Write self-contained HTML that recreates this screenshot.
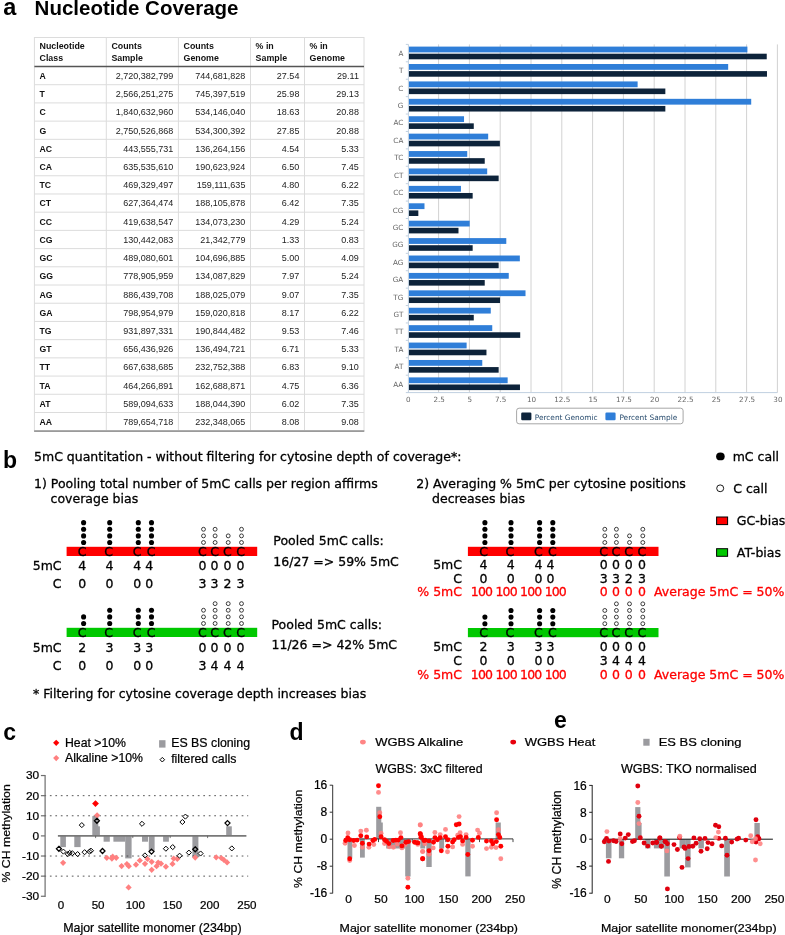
<!DOCTYPE html>
<html lang="en">
<head>
<meta charset="utf-8">
<title>Nucleotide Coverage</title>
<style>
html,body{margin:0;padding:0;background:#fff;}
body{width:785px;height:935px;overflow:hidden;}
svg{display:block;}
.ls{font-family:"Liberation Sans", sans-serif;}
.dv{font-family:"DejaVu Sans", "Liberation Sans", sans-serif;}

</style>
</head>
<body>
<svg width="785" height="935" viewBox="0 0 785 935">
<rect x="0" y="0" width="785" height="935" fill="#ffffff"/>
<g id="panel-a">
<text class="ls" x="3.20" y="15.00" font-size="23.5" font-weight="bold">a</text>
<text class="ls" font-size="19.4" font-weight="bold" transform="translate(34.6,14.9) scale(1.057,1)">Nucleotide Coverage</text>
<line x1="34.40" y1="84.71" x2="364.00" y2="84.71" stroke="#dcdcdc" stroke-width="1"/>
<line x1="34.40" y1="102.92" x2="364.00" y2="102.92" stroke="#dcdcdc" stroke-width="1"/>
<line x1="34.40" y1="121.13" x2="364.00" y2="121.13" stroke="#dcdcdc" stroke-width="1"/>
<line x1="34.40" y1="139.34" x2="364.00" y2="139.34" stroke="#dcdcdc" stroke-width="1"/>
<line x1="34.40" y1="157.55" x2="364.00" y2="157.55" stroke="#dcdcdc" stroke-width="1"/>
<line x1="34.40" y1="175.76" x2="364.00" y2="175.76" stroke="#dcdcdc" stroke-width="1"/>
<line x1="34.40" y1="193.97" x2="364.00" y2="193.97" stroke="#dcdcdc" stroke-width="1"/>
<line x1="34.40" y1="212.18" x2="364.00" y2="212.18" stroke="#dcdcdc" stroke-width="1"/>
<line x1="34.40" y1="230.39" x2="364.00" y2="230.39" stroke="#dcdcdc" stroke-width="1"/>
<line x1="34.40" y1="248.60" x2="364.00" y2="248.60" stroke="#dcdcdc" stroke-width="1"/>
<line x1="34.40" y1="266.81" x2="364.00" y2="266.81" stroke="#dcdcdc" stroke-width="1"/>
<line x1="34.40" y1="285.02" x2="364.00" y2="285.02" stroke="#dcdcdc" stroke-width="1"/>
<line x1="34.40" y1="303.23" x2="364.00" y2="303.23" stroke="#dcdcdc" stroke-width="1"/>
<line x1="34.40" y1="321.44" x2="364.00" y2="321.44" stroke="#dcdcdc" stroke-width="1"/>
<line x1="34.40" y1="339.65" x2="364.00" y2="339.65" stroke="#dcdcdc" stroke-width="1"/>
<line x1="34.40" y1="357.86" x2="364.00" y2="357.86" stroke="#dcdcdc" stroke-width="1"/>
<line x1="34.40" y1="376.07" x2="364.00" y2="376.07" stroke="#dcdcdc" stroke-width="1"/>
<line x1="34.40" y1="394.28" x2="364.00" y2="394.28" stroke="#dcdcdc" stroke-width="1"/>
<line x1="34.40" y1="412.49" x2="364.00" y2="412.49" stroke="#dcdcdc" stroke-width="1"/>
<line x1="106.30" y1="37.50" x2="106.30" y2="430.70" stroke="#dcdcdc" stroke-width="1"/>
<line x1="178.40" y1="37.50" x2="178.40" y2="430.70" stroke="#dcdcdc" stroke-width="1"/>
<line x1="250.50" y1="37.50" x2="250.50" y2="430.70" stroke="#dcdcdc" stroke-width="1"/>
<line x1="304.50" y1="37.50" x2="304.50" y2="430.70" stroke="#dcdcdc" stroke-width="1"/>
<rect x="34.4" y="37.5" width="329.60" height="393.20" fill="none" stroke="#dcdcdc" stroke-width="1"/>
<line x1="34.40" y1="66.50" x2="364.00" y2="66.50" stroke="#555" stroke-width="1.4"/>
<line x1="34.10" y1="431.10" x2="364.30" y2="431.10" stroke="#9a9a9a" stroke-width="1.8"/>
<text class="ls" x="39.50" y="49.30" font-size="8.85" font-weight="bold" fill="#111">Nucleotide</text>
<text class="ls" x="39.50" y="60.50" font-size="8.85" font-weight="bold" fill="#111">Class</text>
<text class="ls" x="111.40" y="49.30" font-size="8.85" font-weight="bold" fill="#111">Counts</text>
<text class="ls" x="111.40" y="60.50" font-size="8.85" font-weight="bold" fill="#111">Sample</text>
<text class="ls" x="183.50" y="49.30" font-size="8.85" font-weight="bold" fill="#111">Counts</text>
<text class="ls" x="183.50" y="60.50" font-size="8.85" font-weight="bold" fill="#111">Genome</text>
<text class="ls" x="255.60" y="49.30" font-size="8.85" font-weight="bold" fill="#111">% in</text>
<text class="ls" x="255.60" y="60.50" font-size="8.85" font-weight="bold" fill="#111">Sample</text>
<text class="ls" x="309.60" y="49.30" font-size="8.85" font-weight="bold" fill="#111">% in</text>
<text class="ls" x="309.60" y="60.50" font-size="8.85" font-weight="bold" fill="#111">Genome</text>
<text class="ls" x="39.50" y="79.00" font-size="8.7" font-weight="bold" fill="#111">A</text>
<text class="ls" x="173.30" y="79.00" font-size="9" fill="#222" text-anchor="end">2,720,382,799</text>
<text class="ls" x="245.40" y="79.00" font-size="9" fill="#222" text-anchor="end">744,681,828</text>
<text class="ls" x="299.40" y="79.00" font-size="9" fill="#222" text-anchor="end">27.54</text>
<text class="ls" x="358.90" y="79.00" font-size="9" fill="#222" text-anchor="end">29.11</text>
<text class="ls" x="39.50" y="97.21" font-size="8.7" font-weight="bold" fill="#111">T</text>
<text class="ls" x="173.30" y="97.21" font-size="9" fill="#222" text-anchor="end">2,566,251,275</text>
<text class="ls" x="245.40" y="97.21" font-size="9" fill="#222" text-anchor="end">745,397,519</text>
<text class="ls" x="299.40" y="97.21" font-size="9" fill="#222" text-anchor="end">25.98</text>
<text class="ls" x="358.90" y="97.21" font-size="9" fill="#222" text-anchor="end">29.13</text>
<text class="ls" x="39.50" y="115.42" font-size="8.7" font-weight="bold" fill="#111">C</text>
<text class="ls" x="173.30" y="115.42" font-size="9" fill="#222" text-anchor="end">1,840,632,960</text>
<text class="ls" x="245.40" y="115.42" font-size="9" fill="#222" text-anchor="end">534,146,040</text>
<text class="ls" x="299.40" y="115.42" font-size="9" fill="#222" text-anchor="end">18.63</text>
<text class="ls" x="358.90" y="115.42" font-size="9" fill="#222" text-anchor="end">20.88</text>
<text class="ls" x="39.50" y="133.63" font-size="8.7" font-weight="bold" fill="#111">G</text>
<text class="ls" x="173.30" y="133.63" font-size="9" fill="#222" text-anchor="end">2,750,526,868</text>
<text class="ls" x="245.40" y="133.63" font-size="9" fill="#222" text-anchor="end">534,300,392</text>
<text class="ls" x="299.40" y="133.63" font-size="9" fill="#222" text-anchor="end">27.85</text>
<text class="ls" x="358.90" y="133.63" font-size="9" fill="#222" text-anchor="end">20.88</text>
<text class="ls" x="39.50" y="151.84" font-size="8.7" font-weight="bold" fill="#111">AC</text>
<text class="ls" x="173.30" y="151.84" font-size="9" fill="#222" text-anchor="end">443,555,731</text>
<text class="ls" x="245.40" y="151.84" font-size="9" fill="#222" text-anchor="end">136,264,156</text>
<text class="ls" x="299.40" y="151.84" font-size="9" fill="#222" text-anchor="end">4.54</text>
<text class="ls" x="358.90" y="151.84" font-size="9" fill="#222" text-anchor="end">5.33</text>
<text class="ls" x="39.50" y="170.05" font-size="8.7" font-weight="bold" fill="#111">CA</text>
<text class="ls" x="173.30" y="170.05" font-size="9" fill="#222" text-anchor="end">635,535,610</text>
<text class="ls" x="245.40" y="170.05" font-size="9" fill="#222" text-anchor="end">190,623,924</text>
<text class="ls" x="299.40" y="170.05" font-size="9" fill="#222" text-anchor="end">6.50</text>
<text class="ls" x="358.90" y="170.05" font-size="9" fill="#222" text-anchor="end">7.45</text>
<text class="ls" x="39.50" y="188.26" font-size="8.7" font-weight="bold" fill="#111">TC</text>
<text class="ls" x="173.30" y="188.26" font-size="9" fill="#222" text-anchor="end">469,329,497</text>
<text class="ls" x="245.40" y="188.26" font-size="9" fill="#222" text-anchor="end">159,111,635</text>
<text class="ls" x="299.40" y="188.26" font-size="9" fill="#222" text-anchor="end">4.80</text>
<text class="ls" x="358.90" y="188.26" font-size="9" fill="#222" text-anchor="end">6.22</text>
<text class="ls" x="39.50" y="206.47" font-size="8.7" font-weight="bold" fill="#111">CT</text>
<text class="ls" x="173.30" y="206.47" font-size="9" fill="#222" text-anchor="end">627,364,474</text>
<text class="ls" x="245.40" y="206.47" font-size="9" fill="#222" text-anchor="end">188,105,878</text>
<text class="ls" x="299.40" y="206.47" font-size="9" fill="#222" text-anchor="end">6.42</text>
<text class="ls" x="358.90" y="206.47" font-size="9" fill="#222" text-anchor="end">7.35</text>
<text class="ls" x="39.50" y="224.68" font-size="8.7" font-weight="bold" fill="#111">CC</text>
<text class="ls" x="173.30" y="224.68" font-size="9" fill="#222" text-anchor="end">419,638,547</text>
<text class="ls" x="245.40" y="224.68" font-size="9" fill="#222" text-anchor="end">134,073,230</text>
<text class="ls" x="299.40" y="224.68" font-size="9" fill="#222" text-anchor="end">4.29</text>
<text class="ls" x="358.90" y="224.68" font-size="9" fill="#222" text-anchor="end">5.24</text>
<text class="ls" x="39.50" y="242.89" font-size="8.7" font-weight="bold" fill="#111">CG</text>
<text class="ls" x="173.30" y="242.89" font-size="9" fill="#222" text-anchor="end">130,442,083</text>
<text class="ls" x="245.40" y="242.89" font-size="9" fill="#222" text-anchor="end">21,342,779</text>
<text class="ls" x="299.40" y="242.89" font-size="9" fill="#222" text-anchor="end">1.33</text>
<text class="ls" x="358.90" y="242.89" font-size="9" fill="#222" text-anchor="end">0.83</text>
<text class="ls" x="39.50" y="261.10" font-size="8.7" font-weight="bold" fill="#111">GC</text>
<text class="ls" x="173.30" y="261.10" font-size="9" fill="#222" text-anchor="end">489,080,601</text>
<text class="ls" x="245.40" y="261.10" font-size="9" fill="#222" text-anchor="end">104,696,885</text>
<text class="ls" x="299.40" y="261.10" font-size="9" fill="#222" text-anchor="end">5.00</text>
<text class="ls" x="358.90" y="261.10" font-size="9" fill="#222" text-anchor="end">4.09</text>
<text class="ls" x="39.50" y="279.31" font-size="8.7" font-weight="bold" fill="#111">GG</text>
<text class="ls" x="173.30" y="279.31" font-size="9" fill="#222" text-anchor="end">778,905,959</text>
<text class="ls" x="245.40" y="279.31" font-size="9" fill="#222" text-anchor="end">134,087,829</text>
<text class="ls" x="299.40" y="279.31" font-size="9" fill="#222" text-anchor="end">7.97</text>
<text class="ls" x="358.90" y="279.31" font-size="9" fill="#222" text-anchor="end">5.24</text>
<text class="ls" x="39.50" y="297.52" font-size="8.7" font-weight="bold" fill="#111">AG</text>
<text class="ls" x="173.30" y="297.52" font-size="9" fill="#222" text-anchor="end">886,439,708</text>
<text class="ls" x="245.40" y="297.52" font-size="9" fill="#222" text-anchor="end">188,025,079</text>
<text class="ls" x="299.40" y="297.52" font-size="9" fill="#222" text-anchor="end">9.07</text>
<text class="ls" x="358.90" y="297.52" font-size="9" fill="#222" text-anchor="end">7.35</text>
<text class="ls" x="39.50" y="315.73" font-size="8.7" font-weight="bold" fill="#111">GA</text>
<text class="ls" x="173.30" y="315.73" font-size="9" fill="#222" text-anchor="end">798,954,979</text>
<text class="ls" x="245.40" y="315.73" font-size="9" fill="#222" text-anchor="end">159,020,818</text>
<text class="ls" x="299.40" y="315.73" font-size="9" fill="#222" text-anchor="end">8.17</text>
<text class="ls" x="358.90" y="315.73" font-size="9" fill="#222" text-anchor="end">6.22</text>
<text class="ls" x="39.50" y="333.94" font-size="8.7" font-weight="bold" fill="#111">TG</text>
<text class="ls" x="173.30" y="333.94" font-size="9" fill="#222" text-anchor="end">931,897,331</text>
<text class="ls" x="245.40" y="333.94" font-size="9" fill="#222" text-anchor="end">190,844,482</text>
<text class="ls" x="299.40" y="333.94" font-size="9" fill="#222" text-anchor="end">9.53</text>
<text class="ls" x="358.90" y="333.94" font-size="9" fill="#222" text-anchor="end">7.46</text>
<text class="ls" x="39.50" y="352.15" font-size="8.7" font-weight="bold" fill="#111">GT</text>
<text class="ls" x="173.30" y="352.15" font-size="9" fill="#222" text-anchor="end">656,436,926</text>
<text class="ls" x="245.40" y="352.15" font-size="9" fill="#222" text-anchor="end">136,494,721</text>
<text class="ls" x="299.40" y="352.15" font-size="9" fill="#222" text-anchor="end">6.71</text>
<text class="ls" x="358.90" y="352.15" font-size="9" fill="#222" text-anchor="end">5.33</text>
<text class="ls" x="39.50" y="370.36" font-size="8.7" font-weight="bold" fill="#111">TT</text>
<text class="ls" x="173.30" y="370.36" font-size="9" fill="#222" text-anchor="end">667,638,685</text>
<text class="ls" x="245.40" y="370.36" font-size="9" fill="#222" text-anchor="end">232,752,388</text>
<text class="ls" x="299.40" y="370.36" font-size="9" fill="#222" text-anchor="end">6.83</text>
<text class="ls" x="358.90" y="370.36" font-size="9" fill="#222" text-anchor="end">9.10</text>
<text class="ls" x="39.50" y="388.57" font-size="8.7" font-weight="bold" fill="#111">TA</text>
<text class="ls" x="173.30" y="388.57" font-size="9" fill="#222" text-anchor="end">464,266,891</text>
<text class="ls" x="245.40" y="388.57" font-size="9" fill="#222" text-anchor="end">162,688,871</text>
<text class="ls" x="299.40" y="388.57" font-size="9" fill="#222" text-anchor="end">4.75</text>
<text class="ls" x="358.90" y="388.57" font-size="9" fill="#222" text-anchor="end">6.36</text>
<text class="ls" x="39.50" y="406.78" font-size="8.7" font-weight="bold" fill="#111">AT</text>
<text class="ls" x="173.30" y="406.78" font-size="9" fill="#222" text-anchor="end">589,094,633</text>
<text class="ls" x="245.40" y="406.78" font-size="9" fill="#222" text-anchor="end">188,044,390</text>
<text class="ls" x="299.40" y="406.78" font-size="9" fill="#222" text-anchor="end">6.02</text>
<text class="ls" x="358.90" y="406.78" font-size="9" fill="#222" text-anchor="end">7.35</text>
<text class="ls" x="39.50" y="424.99" font-size="8.7" font-weight="bold" fill="#111">AA</text>
<text class="ls" x="173.30" y="424.99" font-size="9" fill="#222" text-anchor="end">789,654,718</text>
<text class="ls" x="245.40" y="424.99" font-size="9" fill="#222" text-anchor="end">232,348,065</text>
<text class="ls" x="299.40" y="424.99" font-size="9" fill="#222" text-anchor="end">8.08</text>
<text class="ls" x="358.90" y="424.99" font-size="9" fill="#222" text-anchor="end">9.08</text>
<line x1="438.60" y1="44.40" x2="438.60" y2="392.60" stroke="#d2d2d2" stroke-width="1"/>
<line x1="469.40" y1="44.40" x2="469.40" y2="392.60" stroke="#d2d2d2" stroke-width="1"/>
<line x1="500.20" y1="44.40" x2="500.20" y2="392.60" stroke="#d2d2d2" stroke-width="1"/>
<line x1="531.00" y1="44.40" x2="531.00" y2="392.60" stroke="#d2d2d2" stroke-width="1"/>
<line x1="561.80" y1="44.40" x2="561.80" y2="392.60" stroke="#d2d2d2" stroke-width="1"/>
<line x1="592.60" y1="44.40" x2="592.60" y2="392.60" stroke="#d2d2d2" stroke-width="1"/>
<line x1="623.40" y1="44.40" x2="623.40" y2="392.60" stroke="#d2d2d2" stroke-width="1"/>
<line x1="654.20" y1="44.40" x2="654.20" y2="392.60" stroke="#d2d2d2" stroke-width="1"/>
<line x1="685.00" y1="44.40" x2="685.00" y2="392.60" stroke="#d2d2d2" stroke-width="1"/>
<line x1="715.80" y1="44.40" x2="715.80" y2="392.60" stroke="#d2d2d2" stroke-width="1"/>
<line x1="746.60" y1="44.40" x2="746.60" y2="392.60" stroke="#d2d2d2" stroke-width="1"/>
<line x1="777.40" y1="44.40" x2="777.40" y2="392.60" stroke="#d2d2d2" stroke-width="1"/>
<rect x="408.80" y="46.60" width="338.59" height="5.80" fill="#2f7ed8"/>
<rect x="408.80" y="53.70" width="357.94" height="5.60" fill="#0d233a"/>
<text class="dv" x="403.30" y="55.80" font-size="7.2" fill="#666" text-anchor="end">A</text>
<rect x="408.80" y="64.01" width="319.37" height="5.80" fill="#2f7ed8"/>
<rect x="408.80" y="71.11" width="358.18" height="5.60" fill="#0d233a"/>
<text class="dv" x="403.30" y="73.22" font-size="7.2" fill="#666" text-anchor="end">T</text>
<rect x="408.80" y="81.42" width="228.82" height="5.80" fill="#2f7ed8"/>
<rect x="408.80" y="88.52" width="256.54" height="5.60" fill="#0d233a"/>
<text class="dv" x="403.30" y="90.62" font-size="7.2" fill="#666" text-anchor="end">C</text>
<rect x="408.80" y="98.83" width="342.41" height="5.80" fill="#2f7ed8"/>
<rect x="408.80" y="105.93" width="256.54" height="5.60" fill="#0d233a"/>
<text class="dv" x="403.30" y="108.03" font-size="7.2" fill="#666" text-anchor="end">G</text>
<rect x="408.80" y="116.24" width="55.23" height="5.80" fill="#2f7ed8"/>
<rect x="408.80" y="123.34" width="64.97" height="5.60" fill="#0d233a"/>
<text class="dv" x="403.30" y="125.44" font-size="7.2" fill="#666" text-anchor="end">AC</text>
<rect x="408.80" y="133.65" width="79.38" height="5.80" fill="#2f7ed8"/>
<rect x="408.80" y="140.75" width="91.08" height="5.60" fill="#0d233a"/>
<text class="dv" x="403.30" y="142.85" font-size="7.2" fill="#666" text-anchor="end">CA</text>
<rect x="408.80" y="151.06" width="58.44" height="5.80" fill="#2f7ed8"/>
<rect x="408.80" y="158.16" width="75.93" height="5.60" fill="#0d233a"/>
<text class="dv" x="403.30" y="160.27" font-size="7.2" fill="#666" text-anchor="end">TC</text>
<rect x="408.80" y="168.47" width="78.39" height="5.80" fill="#2f7ed8"/>
<rect x="408.80" y="175.57" width="89.85" height="5.60" fill="#0d233a"/>
<text class="dv" x="403.30" y="177.68" font-size="7.2" fill="#666" text-anchor="end">CT</text>
<rect x="408.80" y="185.88" width="52.15" height="5.80" fill="#2f7ed8"/>
<rect x="408.80" y="192.98" width="63.86" height="5.60" fill="#0d233a"/>
<text class="dv" x="403.30" y="195.09" font-size="7.2" fill="#666" text-anchor="end">CC</text>
<rect x="408.80" y="203.29" width="15.69" height="5.80" fill="#2f7ed8"/>
<rect x="408.80" y="210.39" width="9.53" height="5.60" fill="#0d233a"/>
<text class="dv" x="403.30" y="212.50" font-size="7.2" fill="#666" text-anchor="end">CG</text>
<rect x="408.80" y="220.70" width="60.90" height="5.80" fill="#2f7ed8"/>
<rect x="408.80" y="227.80" width="49.69" height="5.60" fill="#0d233a"/>
<text class="dv" x="403.30" y="229.91" font-size="7.2" fill="#666" text-anchor="end">GC</text>
<rect x="408.80" y="238.11" width="97.49" height="5.80" fill="#2f7ed8"/>
<rect x="408.80" y="245.21" width="63.86" height="5.60" fill="#0d233a"/>
<text class="dv" x="403.30" y="247.31" font-size="7.2" fill="#666" text-anchor="end">GG</text>
<rect x="408.80" y="255.52" width="111.04" height="5.80" fill="#2f7ed8"/>
<rect x="408.80" y="262.62" width="89.85" height="5.60" fill="#0d233a"/>
<text class="dv" x="403.30" y="264.73" font-size="7.2" fill="#666" text-anchor="end">AG</text>
<rect x="408.80" y="272.93" width="99.95" height="5.80" fill="#2f7ed8"/>
<rect x="408.80" y="280.03" width="75.93" height="5.60" fill="#0d233a"/>
<text class="dv" x="403.30" y="282.13" font-size="7.2" fill="#666" text-anchor="end">GA</text>
<rect x="408.80" y="290.34" width="116.71" height="5.80" fill="#2f7ed8"/>
<rect x="408.80" y="297.44" width="91.21" height="5.60" fill="#0d233a"/>
<text class="dv" x="403.30" y="299.54" font-size="7.2" fill="#666" text-anchor="end">TG</text>
<rect x="408.80" y="307.75" width="81.97" height="5.80" fill="#2f7ed8"/>
<rect x="408.80" y="314.85" width="64.97" height="5.60" fill="#0d233a"/>
<text class="dv" x="403.30" y="316.95" font-size="7.2" fill="#666" text-anchor="end">GT</text>
<rect x="408.80" y="325.16" width="83.45" height="5.80" fill="#2f7ed8"/>
<rect x="408.80" y="332.26" width="111.41" height="5.60" fill="#0d233a"/>
<text class="dv" x="403.30" y="334.36" font-size="7.2" fill="#666" text-anchor="end">TT</text>
<rect x="408.80" y="342.57" width="57.82" height="5.80" fill="#2f7ed8"/>
<rect x="408.80" y="349.67" width="77.66" height="5.60" fill="#0d233a"/>
<text class="dv" x="403.30" y="351.77" font-size="7.2" fill="#666" text-anchor="end">TA</text>
<rect x="408.80" y="359.98" width="73.47" height="5.80" fill="#2f7ed8"/>
<rect x="408.80" y="367.08" width="89.85" height="5.60" fill="#0d233a"/>
<text class="dv" x="403.30" y="369.18" font-size="7.2" fill="#666" text-anchor="end">AT</text>
<rect x="408.80" y="377.39" width="98.85" height="5.80" fill="#2f7ed8"/>
<rect x="408.80" y="384.49" width="111.17" height="5.60" fill="#0d233a"/>
<text class="dv" x="403.30" y="386.59" font-size="7.2" fill="#666" text-anchor="end">AA</text>
<line x1="408.40" y1="44.40" x2="408.40" y2="392.60" stroke="#c0d0e0" stroke-width="1"/>
<line x1="405.80" y1="44.40" x2="408.40" y2="44.40" stroke="#c0d0e0" stroke-width="1"/>
<line x1="405.80" y1="61.81" x2="408.40" y2="61.81" stroke="#c0d0e0" stroke-width="1"/>
<line x1="405.80" y1="79.22" x2="408.40" y2="79.22" stroke="#c0d0e0" stroke-width="1"/>
<line x1="405.80" y1="96.63" x2="408.40" y2="96.63" stroke="#c0d0e0" stroke-width="1"/>
<line x1="405.80" y1="114.04" x2="408.40" y2="114.04" stroke="#c0d0e0" stroke-width="1"/>
<line x1="405.80" y1="131.45" x2="408.40" y2="131.45" stroke="#c0d0e0" stroke-width="1"/>
<line x1="405.80" y1="148.86" x2="408.40" y2="148.86" stroke="#c0d0e0" stroke-width="1"/>
<line x1="405.80" y1="166.27" x2="408.40" y2="166.27" stroke="#c0d0e0" stroke-width="1"/>
<line x1="405.80" y1="183.68" x2="408.40" y2="183.68" stroke="#c0d0e0" stroke-width="1"/>
<line x1="405.80" y1="201.09" x2="408.40" y2="201.09" stroke="#c0d0e0" stroke-width="1"/>
<line x1="405.80" y1="218.50" x2="408.40" y2="218.50" stroke="#c0d0e0" stroke-width="1"/>
<line x1="405.80" y1="235.91" x2="408.40" y2="235.91" stroke="#c0d0e0" stroke-width="1"/>
<line x1="405.80" y1="253.32" x2="408.40" y2="253.32" stroke="#c0d0e0" stroke-width="1"/>
<line x1="405.80" y1="270.73" x2="408.40" y2="270.73" stroke="#c0d0e0" stroke-width="1"/>
<line x1="405.80" y1="288.14" x2="408.40" y2="288.14" stroke="#c0d0e0" stroke-width="1"/>
<line x1="405.80" y1="305.55" x2="408.40" y2="305.55" stroke="#c0d0e0" stroke-width="1"/>
<line x1="405.80" y1="322.96" x2="408.40" y2="322.96" stroke="#c0d0e0" stroke-width="1"/>
<line x1="405.80" y1="340.37" x2="408.40" y2="340.37" stroke="#c0d0e0" stroke-width="1"/>
<line x1="405.80" y1="357.78" x2="408.40" y2="357.78" stroke="#c0d0e0" stroke-width="1"/>
<line x1="405.80" y1="375.19" x2="408.40" y2="375.19" stroke="#c0d0e0" stroke-width="1"/>
<line x1="405.80" y1="392.60" x2="408.40" y2="392.60" stroke="#c0d0e0" stroke-width="1"/>
<line x1="407.80" y1="392.60" x2="777.40" y2="392.60" stroke="#c0d0e0" stroke-width="1"/>
<text class="dv" x="408.30" y="402.00" font-size="7.2" fill="#666" text-anchor="middle">0</text>
<text class="dv" x="439.10" y="402.00" font-size="7.2" fill="#666" text-anchor="middle">2.5</text>
<text class="dv" x="469.90" y="402.00" font-size="7.2" fill="#666" text-anchor="middle">5</text>
<text class="dv" x="500.70" y="402.00" font-size="7.2" fill="#666" text-anchor="middle">7.5</text>
<text class="dv" x="531.50" y="402.00" font-size="7.2" fill="#666" text-anchor="middle">10</text>
<text class="dv" x="562.30" y="402.00" font-size="7.2" fill="#666" text-anchor="middle">12.5</text>
<text class="dv" x="593.10" y="402.00" font-size="7.2" fill="#666" text-anchor="middle">15</text>
<text class="dv" x="623.90" y="402.00" font-size="7.2" fill="#666" text-anchor="middle">17.5</text>
<text class="dv" x="654.70" y="402.00" font-size="7.2" fill="#666" text-anchor="middle">20</text>
<text class="dv" x="685.50" y="402.00" font-size="7.2" fill="#666" text-anchor="middle">22.5</text>
<text class="dv" x="716.30" y="402.00" font-size="7.2" fill="#666" text-anchor="middle">25</text>
<text class="dv" x="747.10" y="402.00" font-size="7.2" fill="#666" text-anchor="middle">27.5</text>
<text class="dv" x="777.90" y="402.00" font-size="7.2" fill="#666" text-anchor="middle">30</text>
<rect x="516.6" y="408.2" width="166.5" height="15.6" rx="2.5" fill="#fff" stroke="#909090" stroke-width="0.8"/>
<rect x="521.2" y="412.5" width="10.2" height="7.7" rx="1.2" fill="#0d233a"/>
<text class="dv" x="534.70" y="419.50" font-size="7.4" fill="#274b6d">Percent Genomic</text>
<rect x="605.4" y="412.5" width="10.2" height="7.7" rx="1.2" fill="#2f7ed8"/>
<text class="dv" x="619.40" y="419.50" font-size="7.4" fill="#274b6d">Percent Sample</text>
</g>
<g id="panel-b">
<text class="ls" x="3.10" y="468.30" font-size="23" font-weight="bold">b</text>
<text class="dv" x="34.00" y="460.60" font-size="12.5" stroke="#000" stroke-width="0.3">5mC quantitation - without filtering for cytosine depth of coverage*:</text>
<text class="dv" x="34.00" y="488.40" font-size="12.5" stroke="#000" stroke-width="0.3">1) Pooling total number of 5mC calls per region affirms</text>
<text class="dv" x="50.60" y="503.20" font-size="12.5" stroke="#000" stroke-width="0.3">coverage bias</text>
<text class="dv" x="416.30" y="488.40" font-size="12.5" stroke="#000" stroke-width="0.3">2) Averaging % 5mC per cytosine positions</text>
<text class="dv" x="432.00" y="503.20" font-size="12.5" stroke="#000" stroke-width="0.3">decreases bias</text>
<text class="dv" x="33.00" y="697.90" font-size="12.5" stroke="#000" stroke-width="0.3">* Filtering for cytosine coverage depth increases bias</text>
<rect x="66.60" y="546.80" width="190.60" height="9.20" fill="#ff0000"/>
<circle cx="83.60" cy="542.50" r="2.55" fill="#000"/>
<circle cx="83.60" cy="535.88" r="2.55" fill="#000"/>
<circle cx="83.60" cy="529.26" r="2.55" fill="#000"/>
<circle cx="83.60" cy="522.64" r="2.55" fill="#000"/>
<circle cx="109.70" cy="542.50" r="2.55" fill="#000"/>
<circle cx="109.70" cy="535.88" r="2.55" fill="#000"/>
<circle cx="109.70" cy="529.26" r="2.55" fill="#000"/>
<circle cx="109.70" cy="522.64" r="2.55" fill="#000"/>
<circle cx="138.30" cy="542.50" r="2.55" fill="#000"/>
<circle cx="138.30" cy="535.88" r="2.55" fill="#000"/>
<circle cx="138.30" cy="529.26" r="2.55" fill="#000"/>
<circle cx="138.30" cy="522.64" r="2.55" fill="#000"/>
<circle cx="151.50" cy="542.50" r="2.55" fill="#000"/>
<circle cx="151.50" cy="535.88" r="2.55" fill="#000"/>
<circle cx="151.50" cy="529.26" r="2.55" fill="#000"/>
<circle cx="151.50" cy="522.64" r="2.55" fill="#000"/>
<circle cx="203.50" cy="542.50" r="1.95" fill="#fff" stroke="#000" stroke-width="0.75"/>
<circle cx="203.50" cy="535.88" r="1.95" fill="#fff" stroke="#000" stroke-width="0.75"/>
<circle cx="203.50" cy="529.26" r="1.95" fill="#fff" stroke="#000" stroke-width="0.75"/>
<circle cx="215.10" cy="542.50" r="1.95" fill="#fff" stroke="#000" stroke-width="0.75"/>
<circle cx="215.10" cy="535.88" r="1.95" fill="#fff" stroke="#000" stroke-width="0.75"/>
<circle cx="215.10" cy="529.26" r="1.95" fill="#fff" stroke="#000" stroke-width="0.75"/>
<circle cx="228.20" cy="542.50" r="1.95" fill="#fff" stroke="#000" stroke-width="0.75"/>
<circle cx="228.20" cy="535.88" r="1.95" fill="#fff" stroke="#000" stroke-width="0.75"/>
<circle cx="241.50" cy="542.50" r="1.95" fill="#fff" stroke="#000" stroke-width="0.75"/>
<circle cx="241.50" cy="535.88" r="1.95" fill="#fff" stroke="#000" stroke-width="0.75"/>
<circle cx="241.50" cy="529.26" r="1.95" fill="#fff" stroke="#000" stroke-width="0.75"/>
<text class="dv" x="82.20" y="555.90" font-size="12.5" text-anchor="middle" stroke="#000" stroke-width="0.3">C</text>
<text class="dv" x="108.60" y="555.90" font-size="12.5" text-anchor="middle" stroke="#000" stroke-width="0.3">C</text>
<text class="dv" x="137.00" y="555.90" font-size="12.5" text-anchor="middle" stroke="#000" stroke-width="0.3">C</text>
<text class="dv" x="151.00" y="555.90" font-size="12.5" text-anchor="middle" stroke="#000" stroke-width="0.3">C</text>
<text class="dv" x="202.40" y="555.90" font-size="12.5" text-anchor="middle" stroke="#000" stroke-width="0.3">C</text>
<text class="dv" x="214.60" y="555.90" font-size="12.5" text-anchor="middle" stroke="#000" stroke-width="0.3">C</text>
<text class="dv" x="227.40" y="555.90" font-size="12.5" text-anchor="middle" stroke="#000" stroke-width="0.3">C</text>
<text class="dv" x="240.60" y="555.90" font-size="12.5" text-anchor="middle" stroke="#000" stroke-width="0.3">C</text>
<text class="dv" x="61.60" y="569.70" font-size="12.5" text-anchor="end" stroke="#000" stroke-width="0.3">5mC</text>
<text class="dv" x="82.20" y="569.70" font-size="12.5" text-anchor="middle" stroke="#000" stroke-width="0.3">4</text>
<text class="dv" x="109.40" y="569.70" font-size="12.5" text-anchor="middle" stroke="#000" stroke-width="0.3">4</text>
<text class="dv" x="137.30" y="569.70" font-size="12.5" text-anchor="middle" stroke="#000" stroke-width="0.3">4</text>
<text class="dv" x="149.30" y="569.70" font-size="12.5" text-anchor="middle" stroke="#000" stroke-width="0.3">4</text>
<text class="dv" x="202.40" y="569.70" font-size="12.5" text-anchor="middle" stroke="#000" stroke-width="0.3">0</text>
<text class="dv" x="214.60" y="569.70" font-size="12.5" text-anchor="middle" stroke="#000" stroke-width="0.3">0</text>
<text class="dv" x="227.40" y="569.70" font-size="12.5" text-anchor="middle" stroke="#000" stroke-width="0.3">0</text>
<text class="dv" x="240.60" y="569.70" font-size="12.5" text-anchor="middle" stroke="#000" stroke-width="0.3">0</text>
<text class="dv" x="61.60" y="588.30" font-size="12.5" text-anchor="end" stroke="#000" stroke-width="0.3">C</text>
<text class="dv" x="82.20" y="588.30" font-size="12.5" text-anchor="middle" stroke="#000" stroke-width="0.3">0</text>
<text class="dv" x="109.40" y="588.30" font-size="12.5" text-anchor="middle" stroke="#000" stroke-width="0.3">0</text>
<text class="dv" x="137.30" y="588.30" font-size="12.5" text-anchor="middle" stroke="#000" stroke-width="0.3">0</text>
<text class="dv" x="149.30" y="588.30" font-size="12.5" text-anchor="middle" stroke="#000" stroke-width="0.3">0</text>
<text class="dv" x="202.40" y="588.30" font-size="12.5" text-anchor="middle" stroke="#000" stroke-width="0.3">3</text>
<text class="dv" x="214.60" y="588.30" font-size="12.5" text-anchor="middle" stroke="#000" stroke-width="0.3">3</text>
<text class="dv" x="227.40" y="588.30" font-size="12.5" text-anchor="middle" stroke="#000" stroke-width="0.3">2</text>
<text class="dv" x="240.60" y="588.30" font-size="12.5" text-anchor="middle" stroke="#000" stroke-width="0.3">3</text>
<rect x="66.60" y="627.80" width="190.60" height="9.20" fill="#00c800"/>
<circle cx="83.60" cy="623.50" r="2.55" fill="#000"/>
<circle cx="83.60" cy="616.88" r="2.55" fill="#000"/>
<circle cx="109.70" cy="623.50" r="2.55" fill="#000"/>
<circle cx="109.70" cy="616.88" r="2.55" fill="#000"/>
<circle cx="109.70" cy="610.26" r="2.55" fill="#000"/>
<circle cx="138.30" cy="623.50" r="2.55" fill="#000"/>
<circle cx="138.30" cy="616.88" r="2.55" fill="#000"/>
<circle cx="138.30" cy="610.26" r="2.55" fill="#000"/>
<circle cx="151.50" cy="623.50" r="2.55" fill="#000"/>
<circle cx="151.50" cy="616.88" r="2.55" fill="#000"/>
<circle cx="151.50" cy="610.26" r="2.55" fill="#000"/>
<circle cx="203.50" cy="623.50" r="1.95" fill="#fff" stroke="#000" stroke-width="0.75"/>
<circle cx="203.50" cy="616.88" r="1.95" fill="#fff" stroke="#000" stroke-width="0.75"/>
<circle cx="203.50" cy="610.26" r="1.95" fill="#fff" stroke="#000" stroke-width="0.75"/>
<circle cx="215.10" cy="623.50" r="1.95" fill="#fff" stroke="#000" stroke-width="0.75"/>
<circle cx="215.10" cy="616.88" r="1.95" fill="#fff" stroke="#000" stroke-width="0.75"/>
<circle cx="215.10" cy="610.26" r="1.95" fill="#fff" stroke="#000" stroke-width="0.75"/>
<circle cx="215.10" cy="603.64" r="1.95" fill="#fff" stroke="#000" stroke-width="0.75"/>
<circle cx="228.20" cy="623.50" r="1.95" fill="#fff" stroke="#000" stroke-width="0.75"/>
<circle cx="228.20" cy="616.88" r="1.95" fill="#fff" stroke="#000" stroke-width="0.75"/>
<circle cx="228.20" cy="610.26" r="1.95" fill="#fff" stroke="#000" stroke-width="0.75"/>
<circle cx="228.20" cy="603.64" r="1.95" fill="#fff" stroke="#000" stroke-width="0.75"/>
<circle cx="241.50" cy="623.50" r="1.95" fill="#fff" stroke="#000" stroke-width="0.75"/>
<circle cx="241.50" cy="616.88" r="1.95" fill="#fff" stroke="#000" stroke-width="0.75"/>
<circle cx="241.50" cy="610.26" r="1.95" fill="#fff" stroke="#000" stroke-width="0.75"/>
<circle cx="241.50" cy="603.64" r="1.95" fill="#fff" stroke="#000" stroke-width="0.75"/>
<text class="dv" x="82.20" y="636.90" font-size="12.5" text-anchor="middle" stroke="#000" stroke-width="0.3">C</text>
<text class="dv" x="108.60" y="636.90" font-size="12.5" text-anchor="middle" stroke="#000" stroke-width="0.3">C</text>
<text class="dv" x="137.00" y="636.90" font-size="12.5" text-anchor="middle" stroke="#000" stroke-width="0.3">C</text>
<text class="dv" x="151.00" y="636.90" font-size="12.5" text-anchor="middle" stroke="#000" stroke-width="0.3">C</text>
<text class="dv" x="202.40" y="636.90" font-size="12.5" text-anchor="middle" stroke="#000" stroke-width="0.3">C</text>
<text class="dv" x="214.60" y="636.90" font-size="12.5" text-anchor="middle" stroke="#000" stroke-width="0.3">C</text>
<text class="dv" x="227.40" y="636.90" font-size="12.5" text-anchor="middle" stroke="#000" stroke-width="0.3">C</text>
<text class="dv" x="240.60" y="636.90" font-size="12.5" text-anchor="middle" stroke="#000" stroke-width="0.3">C</text>
<text class="dv" x="61.60" y="652.30" font-size="12.5" text-anchor="end" stroke="#000" stroke-width="0.3">5mC</text>
<text class="dv" x="82.20" y="652.30" font-size="12.5" text-anchor="middle" stroke="#000" stroke-width="0.3">2</text>
<text class="dv" x="109.40" y="652.30" font-size="12.5" text-anchor="middle" stroke="#000" stroke-width="0.3">3</text>
<text class="dv" x="137.30" y="652.30" font-size="12.5" text-anchor="middle" stroke="#000" stroke-width="0.3">3</text>
<text class="dv" x="149.30" y="652.30" font-size="12.5" text-anchor="middle" stroke="#000" stroke-width="0.3">3</text>
<text class="dv" x="202.40" y="652.30" font-size="12.5" text-anchor="middle" stroke="#000" stroke-width="0.3">0</text>
<text class="dv" x="214.60" y="652.30" font-size="12.5" text-anchor="middle" stroke="#000" stroke-width="0.3">0</text>
<text class="dv" x="227.40" y="652.30" font-size="12.5" text-anchor="middle" stroke="#000" stroke-width="0.3">0</text>
<text class="dv" x="240.60" y="652.30" font-size="12.5" text-anchor="middle" stroke="#000" stroke-width="0.3">0</text>
<text class="dv" x="61.60" y="670.40" font-size="12.5" text-anchor="end" stroke="#000" stroke-width="0.3">C</text>
<text class="dv" x="82.20" y="670.40" font-size="12.5" text-anchor="middle" stroke="#000" stroke-width="0.3">0</text>
<text class="dv" x="109.40" y="670.40" font-size="12.5" text-anchor="middle" stroke="#000" stroke-width="0.3">0</text>
<text class="dv" x="137.30" y="670.40" font-size="12.5" text-anchor="middle" stroke="#000" stroke-width="0.3">0</text>
<text class="dv" x="149.30" y="670.40" font-size="12.5" text-anchor="middle" stroke="#000" stroke-width="0.3">0</text>
<text class="dv" x="202.40" y="670.40" font-size="12.5" text-anchor="middle" stroke="#000" stroke-width="0.3">3</text>
<text class="dv" x="214.60" y="670.40" font-size="12.5" text-anchor="middle" stroke="#000" stroke-width="0.3">4</text>
<text class="dv" x="227.40" y="670.40" font-size="12.5" text-anchor="middle" stroke="#000" stroke-width="0.3">4</text>
<text class="dv" x="240.60" y="670.40" font-size="12.5" text-anchor="middle" stroke="#000" stroke-width="0.3">4</text>
<text class="dv" x="273.30" y="545.00" font-size="12.5" stroke="#000" stroke-width="0.3">Pooled 5mC calls:</text>
<text class="dv" x="273.30" y="565.60" font-size="12.5" stroke="#000" stroke-width="0.3">16/27 =&gt; 59% 5mC</text>
<text class="dv" x="271.50" y="628.50" font-size="12.5" stroke="#000" stroke-width="0.3">Pooled 5mC calls:</text>
<text class="dv" x="271.50" y="648.90" font-size="12.5" stroke="#000" stroke-width="0.3">11/26 =&gt; 42% 5mC</text>
<rect x="467.90" y="546.80" width="190.60" height="9.20" fill="#ff0000"/>
<circle cx="484.90" cy="542.50" r="2.55" fill="#000"/>
<circle cx="484.90" cy="535.88" r="2.55" fill="#000"/>
<circle cx="484.90" cy="529.26" r="2.55" fill="#000"/>
<circle cx="484.90" cy="522.64" r="2.55" fill="#000"/>
<circle cx="511.00" cy="542.50" r="2.55" fill="#000"/>
<circle cx="511.00" cy="535.88" r="2.55" fill="#000"/>
<circle cx="511.00" cy="529.26" r="2.55" fill="#000"/>
<circle cx="511.00" cy="522.64" r="2.55" fill="#000"/>
<circle cx="539.60" cy="542.50" r="2.55" fill="#000"/>
<circle cx="539.60" cy="535.88" r="2.55" fill="#000"/>
<circle cx="539.60" cy="529.26" r="2.55" fill="#000"/>
<circle cx="539.60" cy="522.64" r="2.55" fill="#000"/>
<circle cx="552.80" cy="542.50" r="2.55" fill="#000"/>
<circle cx="552.80" cy="535.88" r="2.55" fill="#000"/>
<circle cx="552.80" cy="529.26" r="2.55" fill="#000"/>
<circle cx="552.80" cy="522.64" r="2.55" fill="#000"/>
<circle cx="604.80" cy="542.50" r="1.95" fill="#fff" stroke="#000" stroke-width="0.75"/>
<circle cx="604.80" cy="535.88" r="1.95" fill="#fff" stroke="#000" stroke-width="0.75"/>
<circle cx="604.80" cy="529.26" r="1.95" fill="#fff" stroke="#000" stroke-width="0.75"/>
<circle cx="616.40" cy="542.50" r="1.95" fill="#fff" stroke="#000" stroke-width="0.75"/>
<circle cx="616.40" cy="535.88" r="1.95" fill="#fff" stroke="#000" stroke-width="0.75"/>
<circle cx="616.40" cy="529.26" r="1.95" fill="#fff" stroke="#000" stroke-width="0.75"/>
<circle cx="629.50" cy="542.50" r="1.95" fill="#fff" stroke="#000" stroke-width="0.75"/>
<circle cx="629.50" cy="535.88" r="1.95" fill="#fff" stroke="#000" stroke-width="0.75"/>
<circle cx="642.80" cy="542.50" r="1.95" fill="#fff" stroke="#000" stroke-width="0.75"/>
<circle cx="642.80" cy="535.88" r="1.95" fill="#fff" stroke="#000" stroke-width="0.75"/>
<circle cx="642.80" cy="529.26" r="1.95" fill="#fff" stroke="#000" stroke-width="0.75"/>
<text class="dv" x="483.50" y="555.90" font-size="12.5" text-anchor="middle" stroke="#000" stroke-width="0.3">C</text>
<text class="dv" x="509.90" y="555.90" font-size="12.5" text-anchor="middle" stroke="#000" stroke-width="0.3">C</text>
<text class="dv" x="538.30" y="555.90" font-size="12.5" text-anchor="middle" stroke="#000" stroke-width="0.3">C</text>
<text class="dv" x="552.30" y="555.90" font-size="12.5" text-anchor="middle" stroke="#000" stroke-width="0.3">C</text>
<text class="dv" x="603.70" y="555.90" font-size="12.5" text-anchor="middle" stroke="#000" stroke-width="0.3">C</text>
<text class="dv" x="615.90" y="555.90" font-size="12.5" text-anchor="middle" stroke="#000" stroke-width="0.3">C</text>
<text class="dv" x="628.70" y="555.90" font-size="12.5" text-anchor="middle" stroke="#000" stroke-width="0.3">C</text>
<text class="dv" x="641.90" y="555.90" font-size="12.5" text-anchor="middle" stroke="#000" stroke-width="0.3">C</text>
<text class="dv" x="462.00" y="568.80" font-size="12.5" text-anchor="end" stroke="#000" stroke-width="0.3">5mC</text>
<text class="dv" x="483.50" y="568.80" font-size="12.5" text-anchor="middle" stroke="#000" stroke-width="0.3">4</text>
<text class="dv" x="510.70" y="568.80" font-size="12.5" text-anchor="middle" stroke="#000" stroke-width="0.3">4</text>
<text class="dv" x="538.60" y="568.80" font-size="12.5" text-anchor="middle" stroke="#000" stroke-width="0.3">4</text>
<text class="dv" x="550.60" y="568.80" font-size="12.5" text-anchor="middle" stroke="#000" stroke-width="0.3">4</text>
<text class="dv" x="603.70" y="568.80" font-size="12.5" text-anchor="middle" stroke="#000" stroke-width="0.3">0</text>
<text class="dv" x="615.90" y="568.80" font-size="12.5" text-anchor="middle" stroke="#000" stroke-width="0.3">0</text>
<text class="dv" x="628.70" y="568.80" font-size="12.5" text-anchor="middle" stroke="#000" stroke-width="0.3">0</text>
<text class="dv" x="641.90" y="568.80" font-size="12.5" text-anchor="middle" stroke="#000" stroke-width="0.3">0</text>
<text class="dv" x="462.00" y="582.60" font-size="12.5" text-anchor="end" stroke="#000" stroke-width="0.3">C</text>
<text class="dv" x="483.50" y="582.60" font-size="12.5" text-anchor="middle" stroke="#000" stroke-width="0.3">0</text>
<text class="dv" x="510.70" y="582.60" font-size="12.5" text-anchor="middle" stroke="#000" stroke-width="0.3">0</text>
<text class="dv" x="538.60" y="582.60" font-size="12.5" text-anchor="middle" stroke="#000" stroke-width="0.3">0</text>
<text class="dv" x="550.60" y="582.60" font-size="12.5" text-anchor="middle" stroke="#000" stroke-width="0.3">0</text>
<text class="dv" x="603.70" y="582.60" font-size="12.5" text-anchor="middle" stroke="#000" stroke-width="0.3">3</text>
<text class="dv" x="615.90" y="582.60" font-size="12.5" text-anchor="middle" stroke="#000" stroke-width="0.3">3</text>
<text class="dv" x="628.70" y="582.60" font-size="12.5" text-anchor="middle" stroke="#000" stroke-width="0.3">2</text>
<text class="dv" x="641.90" y="582.60" font-size="12.5" text-anchor="middle" stroke="#000" stroke-width="0.3">3</text>
<text class="dv" x="462.00" y="596.30" font-size="12.5" fill="#ff0000" text-anchor="end" stroke="#ff0000" stroke-width="0.3">% 5mC</text>
<text class="dv" x="481.50" y="596.30" font-size="12.5" fill="#ff0000" text-anchor="middle" stroke="#ff0000" stroke-width="0.3" letter-spacing="-0.85">100</text>
<text class="dv" x="506.10" y="596.30" font-size="12.5" fill="#ff0000" text-anchor="middle" stroke="#ff0000" stroke-width="0.3" letter-spacing="-0.85">100</text>
<text class="dv" x="530.70" y="596.30" font-size="12.5" fill="#ff0000" text-anchor="middle" stroke="#ff0000" stroke-width="0.3" letter-spacing="-0.85">100</text>
<text class="dv" x="555.30" y="596.30" font-size="12.5" fill="#ff0000" text-anchor="middle" stroke="#ff0000" stroke-width="0.3" letter-spacing="-0.85">100</text>
<text class="dv" x="603.70" y="596.30" font-size="12.5" fill="#ff0000" text-anchor="middle" stroke="#ff0000" stroke-width="0.3">0</text>
<text class="dv" x="615.90" y="596.30" font-size="12.5" fill="#ff0000" text-anchor="middle" stroke="#ff0000" stroke-width="0.3">0</text>
<text class="dv" x="628.70" y="596.30" font-size="12.5" fill="#ff0000" text-anchor="middle" stroke="#ff0000" stroke-width="0.3">0</text>
<text class="dv" x="641.90" y="596.30" font-size="12.5" fill="#ff0000" text-anchor="middle" stroke="#ff0000" stroke-width="0.3">0</text>
<rect x="467.90" y="628.00" width="190.60" height="9.20" fill="#00c800"/>
<circle cx="484.90" cy="623.70" r="2.55" fill="#000"/>
<circle cx="484.90" cy="617.08" r="2.55" fill="#000"/>
<circle cx="511.00" cy="623.70" r="2.55" fill="#000"/>
<circle cx="511.00" cy="617.08" r="2.55" fill="#000"/>
<circle cx="511.00" cy="610.46" r="2.55" fill="#000"/>
<circle cx="539.60" cy="623.70" r="2.55" fill="#000"/>
<circle cx="539.60" cy="617.08" r="2.55" fill="#000"/>
<circle cx="539.60" cy="610.46" r="2.55" fill="#000"/>
<circle cx="552.80" cy="623.70" r="2.55" fill="#000"/>
<circle cx="552.80" cy="617.08" r="2.55" fill="#000"/>
<circle cx="552.80" cy="610.46" r="2.55" fill="#000"/>
<circle cx="604.80" cy="623.70" r="1.95" fill="#fff" stroke="#000" stroke-width="0.75"/>
<circle cx="604.80" cy="617.08" r="1.95" fill="#fff" stroke="#000" stroke-width="0.75"/>
<circle cx="604.80" cy="610.46" r="1.95" fill="#fff" stroke="#000" stroke-width="0.75"/>
<circle cx="616.40" cy="623.70" r="1.95" fill="#fff" stroke="#000" stroke-width="0.75"/>
<circle cx="616.40" cy="617.08" r="1.95" fill="#fff" stroke="#000" stroke-width="0.75"/>
<circle cx="616.40" cy="610.46" r="1.95" fill="#fff" stroke="#000" stroke-width="0.75"/>
<circle cx="616.40" cy="603.84" r="1.95" fill="#fff" stroke="#000" stroke-width="0.75"/>
<circle cx="629.50" cy="623.70" r="1.95" fill="#fff" stroke="#000" stroke-width="0.75"/>
<circle cx="629.50" cy="617.08" r="1.95" fill="#fff" stroke="#000" stroke-width="0.75"/>
<circle cx="629.50" cy="610.46" r="1.95" fill="#fff" stroke="#000" stroke-width="0.75"/>
<circle cx="629.50" cy="603.84" r="1.95" fill="#fff" stroke="#000" stroke-width="0.75"/>
<circle cx="642.80" cy="623.70" r="1.95" fill="#fff" stroke="#000" stroke-width="0.75"/>
<circle cx="642.80" cy="617.08" r="1.95" fill="#fff" stroke="#000" stroke-width="0.75"/>
<circle cx="642.80" cy="610.46" r="1.95" fill="#fff" stroke="#000" stroke-width="0.75"/>
<circle cx="642.80" cy="603.84" r="1.95" fill="#fff" stroke="#000" stroke-width="0.75"/>
<text class="dv" x="483.50" y="637.10" font-size="12.5" text-anchor="middle" stroke="#000" stroke-width="0.3">C</text>
<text class="dv" x="509.90" y="637.10" font-size="12.5" text-anchor="middle" stroke="#000" stroke-width="0.3">C</text>
<text class="dv" x="538.30" y="637.10" font-size="12.5" text-anchor="middle" stroke="#000" stroke-width="0.3">C</text>
<text class="dv" x="552.30" y="637.10" font-size="12.5" text-anchor="middle" stroke="#000" stroke-width="0.3">C</text>
<text class="dv" x="603.70" y="637.10" font-size="12.5" text-anchor="middle" stroke="#000" stroke-width="0.3">C</text>
<text class="dv" x="615.90" y="637.10" font-size="12.5" text-anchor="middle" stroke="#000" stroke-width="0.3">C</text>
<text class="dv" x="628.70" y="637.10" font-size="12.5" text-anchor="middle" stroke="#000" stroke-width="0.3">C</text>
<text class="dv" x="641.90" y="637.10" font-size="12.5" text-anchor="middle" stroke="#000" stroke-width="0.3">C</text>
<text class="dv" x="462.00" y="651.20" font-size="12.5" text-anchor="end" stroke="#000" stroke-width="0.3">5mC</text>
<text class="dv" x="483.50" y="651.20" font-size="12.5" text-anchor="middle" stroke="#000" stroke-width="0.3">2</text>
<text class="dv" x="510.70" y="651.20" font-size="12.5" text-anchor="middle" stroke="#000" stroke-width="0.3">3</text>
<text class="dv" x="538.60" y="651.20" font-size="12.5" text-anchor="middle" stroke="#000" stroke-width="0.3">3</text>
<text class="dv" x="550.60" y="651.20" font-size="12.5" text-anchor="middle" stroke="#000" stroke-width="0.3">3</text>
<text class="dv" x="603.70" y="651.20" font-size="12.5" text-anchor="middle" stroke="#000" stroke-width="0.3">0</text>
<text class="dv" x="615.90" y="651.20" font-size="12.5" text-anchor="middle" stroke="#000" stroke-width="0.3">0</text>
<text class="dv" x="628.70" y="651.20" font-size="12.5" text-anchor="middle" stroke="#000" stroke-width="0.3">0</text>
<text class="dv" x="641.90" y="651.20" font-size="12.5" text-anchor="middle" stroke="#000" stroke-width="0.3">0</text>
<text class="dv" x="462.00" y="665.00" font-size="12.5" text-anchor="end" stroke="#000" stroke-width="0.3">C</text>
<text class="dv" x="483.50" y="665.00" font-size="12.5" text-anchor="middle" stroke="#000" stroke-width="0.3">0</text>
<text class="dv" x="510.70" y="665.00" font-size="12.5" text-anchor="middle" stroke="#000" stroke-width="0.3">0</text>
<text class="dv" x="538.60" y="665.00" font-size="12.5" text-anchor="middle" stroke="#000" stroke-width="0.3">0</text>
<text class="dv" x="550.60" y="665.00" font-size="12.5" text-anchor="middle" stroke="#000" stroke-width="0.3">0</text>
<text class="dv" x="603.70" y="665.00" font-size="12.5" text-anchor="middle" stroke="#000" stroke-width="0.3">3</text>
<text class="dv" x="615.90" y="665.00" font-size="12.5" text-anchor="middle" stroke="#000" stroke-width="0.3">4</text>
<text class="dv" x="628.70" y="665.00" font-size="12.5" text-anchor="middle" stroke="#000" stroke-width="0.3">4</text>
<text class="dv" x="641.90" y="665.00" font-size="12.5" text-anchor="middle" stroke="#000" stroke-width="0.3">4</text>
<text class="dv" x="462.00" y="679.10" font-size="12.5" fill="#ff0000" text-anchor="end" stroke="#ff0000" stroke-width="0.3">% 5mC</text>
<text class="dv" x="481.50" y="679.10" font-size="12.5" fill="#ff0000" text-anchor="middle" stroke="#ff0000" stroke-width="0.3" letter-spacing="-0.85">100</text>
<text class="dv" x="506.10" y="679.10" font-size="12.5" fill="#ff0000" text-anchor="middle" stroke="#ff0000" stroke-width="0.3" letter-spacing="-0.85">100</text>
<text class="dv" x="530.70" y="679.10" font-size="12.5" fill="#ff0000" text-anchor="middle" stroke="#ff0000" stroke-width="0.3" letter-spacing="-0.85">100</text>
<text class="dv" x="555.30" y="679.10" font-size="12.5" fill="#ff0000" text-anchor="middle" stroke="#ff0000" stroke-width="0.3" letter-spacing="-0.85">100</text>
<text class="dv" x="603.70" y="679.10" font-size="12.5" fill="#ff0000" text-anchor="middle" stroke="#ff0000" stroke-width="0.3">0</text>
<text class="dv" x="615.90" y="679.10" font-size="12.5" fill="#ff0000" text-anchor="middle" stroke="#ff0000" stroke-width="0.3">0</text>
<text class="dv" x="628.70" y="679.10" font-size="12.5" fill="#ff0000" text-anchor="middle" stroke="#ff0000" stroke-width="0.3">0</text>
<text class="dv" x="641.90" y="679.10" font-size="12.5" fill="#ff0000" text-anchor="middle" stroke="#ff0000" stroke-width="0.3">0</text>
<text class="dv" x="654.00" y="596.30" font-size="12.5" fill="#ff0000" stroke="#ff0000" stroke-width="0.3">Average 5mC = 50%</text>
<text class="dv" x="654.00" y="679.10" font-size="12.5" fill="#ff0000" stroke="#ff0000" stroke-width="0.3">Average 5mC = 50%</text>
<ellipse cx="720.4" cy="456.4" rx="4.3" ry="3.9" fill="#000"/>
<text class="dv" x="732.70" y="460.50" font-size="12.5" stroke="#000" stroke-width="0.3">mC call</text>
<ellipse cx="720.2" cy="488.3" rx="3.5" ry="3.4" fill="#fff" stroke="#000" stroke-width="0.9"/>
<text class="dv" x="733.30" y="492.60" font-size="12.5" stroke="#000" stroke-width="0.3">C call</text>
<rect x="716.6" y="517.0" width="11.0" height="7.6" fill="#ff0000" stroke="#000" stroke-width="1.0"/>
<text class="dv" x="736.80" y="524.50" font-size="12.5" stroke="#000" stroke-width="0.3">GC-bias</text>
<rect x="716.6" y="548.7" width="11.0" height="7.6" fill="#00c800" stroke="#000" stroke-width="1.0"/>
<text class="dv" x="736.80" y="556.50" font-size="12.5" stroke="#000" stroke-width="0.3">AT-bias</text>
</g>
<g id="panel-c">
<text class="ls" x="3.20" y="740.40" font-size="23" font-weight="bold">c</text>
<polygon points="56.20,739.70 59.30,742.80 56.20,745.90 53.10,742.80" fill="#ff0000"/>
<text class="ls" x="65.00" y="746.50" font-size="12.25" stroke="#000" stroke-width="0.22">Heat &gt;10%</text>
<polygon points="56.20,755.00 59.30,758.10 56.20,761.20 53.10,758.10" fill="#ff8080"/>
<text class="ls" x="65.00" y="761.60" font-size="12.25" stroke="#000" stroke-width="0.22">Alkaline &gt;10%</text>
<rect x="159.10" y="740.20" width="6.40" height="7.40" fill="#9b9b9f"/>
<text class="ls" x="171.20" y="747.40" font-size="12.35" stroke="#000" stroke-width="0.22">ES BS cloning</text>
<polygon points="162.30,757.40 164.60,759.70 162.30,762.00 160.00,759.70" fill="#fff" stroke="#000" stroke-width="1.0"/>
<text class="ls" x="171.20" y="763.40" font-size="12.35" stroke="#000" stroke-width="0.22">filtered calls</text>
<text class="ls" font-size="10.88" stroke="#000" stroke-width="0.22" text-anchor="middle" transform="translate(9.80,833.40) rotate(-90) scale(1.130,1)">% CH methylation</text>
<rect x="60.30" y="835.90" width="5.60" height="11.20" fill="#9b9b9f"/>
<rect x="74.30" y="835.90" width="6.30" height="11.20" fill="#9b9b9f"/>
<rect x="92.30" y="816.10" width="6.00" height="19.80" fill="#9b9b9f"/>
<rect x="94.00" y="826.30" width="5.90" height="9.60" fill="#9b9b9f"/>
<rect x="103.60" y="835.90" width="6.20" height="5.80" fill="#9b9b9f"/>
<rect x="113.40" y="835.90" width="11.80" height="5.80" fill="#9b9b9f"/>
<rect x="125.20" y="835.90" width="6.40" height="22.50" fill="#9b9b9f"/>
<rect x="142.00" y="835.90" width="6.00" height="5.80" fill="#9b9b9f"/>
<rect x="148.80" y="835.90" width="5.80" height="15.30" fill="#9b9b9f"/>
<rect x="163.10" y="835.90" width="5.80" height="5.80" fill="#9b9b9f"/>
<rect x="192.40" y="835.90" width="6.00" height="21.70" fill="#9b9b9f"/>
<rect x="226.20" y="826.30" width="5.60" height="9.60" fill="#9b9b9f"/>
<line x1="44.40" y1="795.66" x2="248.20" y2="795.66" stroke="#444" stroke-width="0.9" stroke-dasharray="1.7 3.78"/>
<line x1="44.40" y1="815.78" x2="248.20" y2="815.78" stroke="#444" stroke-width="0.9" stroke-dasharray="1.7 3.78"/>
<line x1="44.40" y1="856.02" x2="248.20" y2="856.02" stroke="#444" stroke-width="0.9" stroke-dasharray="1.7 3.78"/>
<line x1="44.40" y1="876.14" x2="248.20" y2="876.14" stroke="#444" stroke-width="0.9" stroke-dasharray="1.7 3.78"/>
<line x1="45.10" y1="775.00" x2="45.10" y2="897.00" stroke="#6e6e6e" stroke-width="1.2"/>
<line x1="40.90" y1="775.54" x2="45.10" y2="775.54" stroke="#6e6e6e" stroke-width="1.2"/>
<text class="ls" transform="translate(39.20,779.44) scale(1.090,1)" font-size="10.92" text-anchor="end" stroke="#000" stroke-width="0.22">30</text>
<line x1="40.90" y1="795.66" x2="45.10" y2="795.66" stroke="#6e6e6e" stroke-width="1.2"/>
<text class="ls" transform="translate(39.20,799.56) scale(1.090,1)" font-size="10.92" text-anchor="end" stroke="#000" stroke-width="0.22">20</text>
<line x1="40.90" y1="815.78" x2="45.10" y2="815.78" stroke="#6e6e6e" stroke-width="1.2"/>
<text class="ls" transform="translate(39.20,819.68) scale(1.090,1)" font-size="10.92" text-anchor="end" stroke="#000" stroke-width="0.22">10</text>
<line x1="40.90" y1="835.90" x2="45.10" y2="835.90" stroke="#6e6e6e" stroke-width="1.2"/>
<text class="ls" transform="translate(39.20,839.80) scale(1.090,1)" font-size="10.92" text-anchor="end" stroke="#000" stroke-width="0.22">0</text>
<line x1="40.90" y1="856.02" x2="45.10" y2="856.02" stroke="#6e6e6e" stroke-width="1.2"/>
<text class="ls" transform="translate(39.20,859.92) scale(1.090,1)" font-size="10.92" text-anchor="end" stroke="#000" stroke-width="0.22">-10</text>
<line x1="40.90" y1="876.14" x2="45.10" y2="876.14" stroke="#6e6e6e" stroke-width="1.2"/>
<text class="ls" transform="translate(39.20,880.04) scale(1.090,1)" font-size="10.92" text-anchor="end" stroke="#000" stroke-width="0.22">-20</text>
<line x1="40.90" y1="896.26" x2="45.10" y2="896.26" stroke="#6e6e6e" stroke-width="1.2"/>
<text class="ls" transform="translate(39.20,900.16) scale(1.090,1)" font-size="10.92" text-anchor="end" stroke="#000" stroke-width="0.22">-30</text>
<line x1="57.90" y1="835.90" x2="246.40" y2="835.90" stroke="#787878" stroke-width="1.6"/>
<line x1="95.60" y1="835.90" x2="95.60" y2="838.10" stroke="#555" stroke-width="0.8"/>
<line x1="132.80" y1="835.90" x2="132.80" y2="838.10" stroke="#555" stroke-width="0.8"/>
<line x1="170.20" y1="835.90" x2="170.20" y2="838.10" stroke="#555" stroke-width="0.8"/>
<line x1="207.60" y1="835.90" x2="207.60" y2="838.10" stroke="#555" stroke-width="0.8"/>
<text class="ls" x="60.90" y="908.70" font-size="11.6" text-anchor="middle" stroke="#000" stroke-width="0.22">0</text>
<text class="ls" x="98.10" y="908.70" font-size="11.6" text-anchor="middle" stroke="#000" stroke-width="0.22">50</text>
<text class="ls" x="135.30" y="908.70" font-size="11.6" text-anchor="middle" stroke="#000" stroke-width="0.22">100</text>
<text class="ls" x="172.50" y="908.70" font-size="11.6" text-anchor="middle" stroke="#000" stroke-width="0.22">150</text>
<text class="ls" x="209.70" y="908.70" font-size="11.6" text-anchor="middle" stroke="#000" stroke-width="0.22">200</text>
<text class="ls" x="246.90" y="908.70" font-size="11.6" text-anchor="middle" stroke="#000" stroke-width="0.22">250</text>
<text class="ls" x="152.40" y="932.30" font-size="12.4" text-anchor="middle" stroke="#000" stroke-width="0.22">Major satellite monomer (234bp)</text>
<polygon points="63.10,859.70 66.20,862.80 63.10,865.90 60.00,862.80" fill="#ff8080"/>
<polygon points="106.80,854.70 109.90,857.80 106.80,860.90 103.70,857.80" fill="#ff8080"/>
<polygon points="111.90,855.50 115.00,858.60 111.90,861.70 108.80,858.60" fill="#ff8080"/>
<polygon points="112.70,853.60 115.80,856.70 112.70,859.80 109.60,856.70" fill="#ff8080"/>
<polygon points="116.20,854.70 119.30,857.80 116.20,860.90 113.10,857.80" fill="#ff8080"/>
<polygon points="121.60,863.00 124.70,866.10 121.60,869.20 118.50,866.10" fill="#ff8080"/>
<polygon points="126.90,860.90 130.00,864.00 126.90,867.10 123.80,864.00" fill="#ff8080"/>
<polygon points="128.80,863.10 131.90,866.20 128.80,869.30 125.70,866.20" fill="#ff8080"/>
<polygon points="136.00,861.60 139.10,864.70 136.00,867.80 132.90,864.70" fill="#ff8080"/>
<polygon points="139.80,857.40 142.90,860.50 139.80,863.60 136.70,860.50" fill="#ff8080"/>
<polygon points="145.00,860.70 148.10,863.80 145.00,866.90 141.90,863.80" fill="#ff8080"/>
<polygon points="147.50,855.90 150.60,859.00 147.50,862.10 144.40,859.00" fill="#ff8080"/>
<polygon points="151.70,858.70 154.80,861.80 151.70,864.90 148.60,861.80" fill="#ff8080"/>
<polygon points="151.70,866.70 154.80,869.80 151.70,872.90 148.60,869.80" fill="#ff8080"/>
<polygon points="156.60,863.10 159.70,866.20 156.60,869.30 153.50,866.20" fill="#ff8080"/>
<polygon points="158.20,859.50 161.30,862.60 158.20,865.70 155.10,862.60" fill="#ff8080"/>
<polygon points="161.00,860.60 164.10,863.70 161.00,866.80 157.90,863.70" fill="#ff8080"/>
<polygon points="165.90,863.60 169.00,866.70 165.90,869.80 162.80,866.70" fill="#ff8080"/>
<polygon points="172.50,860.80 175.60,863.90 172.50,867.00 169.40,863.90" fill="#ff8080"/>
<polygon points="173.70,855.50 176.80,858.60 173.70,861.70 170.60,858.60" fill="#ff8080"/>
<polygon points="177.30,855.90 180.40,859.00 177.30,862.10 174.20,859.00" fill="#ff8080"/>
<polygon points="195.20,854.50 198.30,857.60 195.20,860.70 192.10,857.60" fill="#ff8080"/>
<polygon points="216.20,854.20 219.30,857.30 216.20,860.40 213.10,857.30" fill="#ff8080"/>
<polygon points="221.30,854.90 224.40,858.00 221.30,861.10 218.20,858.00" fill="#ff8080"/>
<polygon points="223.90,856.80 227.00,859.90 223.90,863.00 220.80,859.90" fill="#ff8080"/>
<polygon points="227.10,859.30 230.20,862.40 227.10,865.50 224.00,862.40" fill="#ff8080"/>
<polygon points="128.60,884.30 131.70,887.40 128.60,890.50 125.50,887.40" fill="#ff8080"/>
<polygon points="97.10,812.20 100.20,815.30 97.10,818.40 94.00,815.30" fill="#ff8080"/>
<polygon points="95.50,800.20 98.90,803.60 95.50,807.00 92.10,803.60" fill="#ff0000"/>
<polygon points="81.80,822.55 84.35,825.10 81.80,827.65 79.25,825.10" fill="none" stroke="#000" stroke-width="1.0"/>
<polygon points="142.00,821.25 144.55,823.80 142.00,826.35 139.45,823.80" fill="none" stroke="#000" stroke-width="1.0"/>
<polygon points="63.40,849.05 65.95,851.60 63.40,854.15 60.85,851.60" fill="none" stroke="#000" stroke-width="1.0"/>
<polygon points="67.80,851.55 70.35,854.10 67.80,856.65 65.25,854.10" fill="none" stroke="#000" stroke-width="1.0"/>
<polygon points="69.70,850.35 72.25,852.90 69.70,855.45 67.15,852.90" fill="none" stroke="#000" stroke-width="1.0"/>
<polygon points="72.30,850.65 74.85,853.20 72.30,855.75 69.75,853.20" fill="none" stroke="#000" stroke-width="1.0"/>
<polygon points="77.60,851.55 80.15,854.10 77.60,856.65 75.05,854.10" fill="none" stroke="#000" stroke-width="1.0"/>
<polygon points="84.60,849.65 87.15,852.20 84.60,854.75 82.05,852.20" fill="none" stroke="#000" stroke-width="1.0"/>
<polygon points="89.50,849.05 92.05,851.60 89.50,854.15 86.95,851.60" fill="none" stroke="#000" stroke-width="1.0"/>
<polygon points="91.00,848.15 93.55,850.70 91.00,853.25 88.45,850.70" fill="none" stroke="#000" stroke-width="1.0"/>
<polygon points="144.90,852.85 147.45,855.40 144.90,857.95 142.35,855.40" fill="none" stroke="#000" stroke-width="1.0"/>
<polygon points="185.40,814.05 187.95,816.60 185.40,819.15 182.85,816.60" fill="none" stroke="#000" stroke-width="1.0"/>
<polygon points="182.40,819.45 184.95,822.00 182.40,824.55 179.85,822.00" fill="none" stroke="#000" stroke-width="1.0"/>
<polygon points="165.90,846.15 168.45,848.70 165.90,851.25 163.35,848.70" fill="none" stroke="#000" stroke-width="1.0"/>
<polygon points="172.70,844.55 175.25,847.10 172.70,849.65 170.15,847.10" fill="none" stroke="#000" stroke-width="1.0"/>
<polygon points="179.60,853.15 182.15,855.70 179.60,858.25 177.05,855.70" fill="none" stroke="#000" stroke-width="1.0"/>
<polygon points="188.90,850.05 191.45,852.60 188.90,855.15 186.35,852.60" fill="none" stroke="#000" stroke-width="1.0"/>
<polygon points="200.60,850.95 203.15,853.50 200.60,856.05 198.05,853.50" fill="none" stroke="#000" stroke-width="1.0"/>
<polygon points="231.80,845.85 234.35,848.40 231.80,850.95 229.25,848.40" fill="none" stroke="#000" stroke-width="1.0"/>
<polygon points="96.90,818.30 99.40,820.80 96.90,823.30 94.40,820.80" fill="none" stroke="#000" stroke-width="1.25"/>
<polygon points="58.90,846.30 61.40,848.80 58.90,851.30 56.40,848.80" fill="none" stroke="#000" stroke-width="1.25"/>
<polygon points="102.50,848.50 105.00,851.00 102.50,853.50 100.00,851.00" fill="none" stroke="#000" stroke-width="1.25"/>
<polygon points="227.50,820.60 230.00,823.10 227.50,825.60 225.00,823.10" fill="none" stroke="#000" stroke-width="1.25"/>
<polygon points="151.50,849.10 154.00,851.60 151.50,854.10 149.00,851.60" fill="none" stroke="#000" stroke-width="1.25"/>
<polygon points="195.20,846.80 197.70,849.30 195.20,851.80 192.70,849.30" fill="none" stroke="#000" stroke-width="1.25"/>
</g>
<g id="panel-d">
<text class="ls" x="289.40" y="740.30" font-size="23" font-weight="bold">d</text>
<ellipse cx="362.9" cy="742.1" rx="2.9" ry="2.35" fill="#ff8585"/>
<text class="ls" transform="translate(375.20,745.90) scale(1.150,1)" font-size="11.30" stroke="#000" stroke-width="0.22">WGBS Alkaline</text>
<ellipse cx="513.2" cy="742.1" rx="2.9" ry="2.35" fill="#e8000c"/>
<text class="ls" transform="translate(524.70,745.90) scale(1.150,1)" font-size="11.30" stroke="#000" stroke-width="0.22">WGBS Heat</text>
<rect x="643.30" y="738.80" width="6.30" height="6.90" fill="#9b9b9f"/>
<text class="ls" transform="translate(658.70,745.90) scale(1.150,1)" font-size="11.26" stroke="#000" stroke-width="0.22">ES BS cloning</text>
<text class="ls" x="375.60" y="772.60" font-size="12.35" stroke="#000" stroke-width="0.22">WGBS: 3xC filtered</text>
<text class="ls" font-size="11.83" stroke="#000" stroke-width="0.22" text-anchor="middle" transform="translate(302.00,838.80) rotate(-90) scale(1.040,1)">% CH methylation</text>
<rect x="347.50" y="838.90" width="4.80" height="19.00" fill="#9b9b9f"/>
<rect x="360.00" y="838.90" width="4.80" height="18.70" fill="#9b9b9f"/>
<rect x="376.20" y="806.80" width="5.10" height="32.10" fill="#9b9b9f"/>
<rect x="377.80" y="822.50" width="5.00" height="16.40" fill="#9b9b9f"/>
<rect x="386.20" y="838.90" width="19.00" height="9.60" fill="#9b9b9f"/>
<rect x="405.20" y="838.90" width="5.40" height="37.60" fill="#9b9b9f"/>
<rect x="420.30" y="838.90" width="4.90" height="9.60" fill="#9b9b9f"/>
<rect x="426.30" y="838.90" width="5.40" height="28.10" fill="#9b9b9f"/>
<rect x="439.20" y="838.90" width="4.90" height="9.60" fill="#9b9b9f"/>
<rect x="465.30" y="838.90" width="5.30" height="37.50" fill="#9b9b9f"/>
<rect x="495.60" y="822.50" width="5.20" height="16.40" fill="#9b9b9f"/>
<line x1="332.70" y1="785.00" x2="332.70" y2="893.40" stroke="#333" stroke-width="1.0"/>
<line x1="329.70" y1="785.20" x2="332.70" y2="785.20" stroke="#333" stroke-width="1.0"/>
<text class="ls" x="327.30" y="789.40" font-size="12.0" text-anchor="end" stroke="#000" stroke-width="0.22">16</text>
<line x1="329.70" y1="812.20" x2="332.70" y2="812.20" stroke="#333" stroke-width="1.0"/>
<text class="ls" x="327.30" y="816.40" font-size="12.0" text-anchor="end" stroke="#000" stroke-width="0.22">8</text>
<line x1="329.70" y1="839.20" x2="332.70" y2="839.20" stroke="#333" stroke-width="1.0"/>
<text class="ls" x="327.30" y="843.40" font-size="12.0" text-anchor="end" stroke="#000" stroke-width="0.22">0</text>
<line x1="329.70" y1="866.20" x2="332.70" y2="866.20" stroke="#333" stroke-width="1.0"/>
<text class="ls" x="327.30" y="870.40" font-size="12.0" text-anchor="end" stroke="#000" stroke-width="0.22">-8</text>
<line x1="329.70" y1="893.20" x2="332.70" y2="893.20" stroke="#333" stroke-width="1.0"/>
<text class="ls" x="327.30" y="897.40" font-size="12.0" text-anchor="end" stroke="#000" stroke-width="0.22">-16</text>
<line x1="344.00" y1="838.90" x2="513.00" y2="838.90" stroke="#333" stroke-width="1.0"/>
<line x1="378.50" y1="838.90" x2="378.50" y2="842.10" stroke="#333" stroke-width="0.9"/>
<line x1="412.20" y1="838.90" x2="412.20" y2="842.10" stroke="#333" stroke-width="0.9"/>
<line x1="445.80" y1="838.90" x2="445.80" y2="842.10" stroke="#333" stroke-width="0.9"/>
<line x1="479.50" y1="838.90" x2="479.50" y2="842.10" stroke="#333" stroke-width="0.9"/>
<line x1="513.00" y1="838.90" x2="513.00" y2="842.10" stroke="#333" stroke-width="0.9"/>
<text class="ls" transform="translate(348.70,903.20) scale(1.050,1)" font-size="11.43" text-anchor="middle" stroke="#000" stroke-width="0.22">0</text>
<text class="ls" transform="translate(380.90,903.20) scale(1.050,1)" font-size="11.43" text-anchor="middle" stroke="#000" stroke-width="0.22">50</text>
<text class="ls" transform="translate(414.50,903.20) scale(1.050,1)" font-size="11.43" text-anchor="middle" stroke="#000" stroke-width="0.22">100</text>
<text class="ls" transform="translate(448.40,903.20) scale(1.050,1)" font-size="11.43" text-anchor="middle" stroke="#000" stroke-width="0.22">150</text>
<text class="ls" transform="translate(481.60,903.20) scale(1.050,1)" font-size="11.43" text-anchor="middle" stroke="#000" stroke-width="0.22">200</text>
<text class="ls" transform="translate(515.10,903.20) scale(1.050,1)" font-size="11.43" text-anchor="middle" stroke="#000" stroke-width="0.22">250</text>
<text class="ls" transform="translate(428.80,931.60) scale(1.060,1)" font-size="11.70" text-anchor="middle" stroke="#000" stroke-width="0.22">Major satellite monomer (234bp)</text>
<circle cx="378.5" cy="792.4" r="2.45" fill="#ff8080" fill-opacity="0.9"/>
<circle cx="379.8" cy="812.8" r="2.45" fill="#ff8080" fill-opacity="0.9"/>
<circle cx="407.9" cy="878.3" r="2.45" fill="#ff8080" fill-opacity="0.9"/>
<circle cx="349.7" cy="860.6" r="2.45" fill="#ff8080" fill-opacity="0.9"/>
<circle cx="422.6" cy="851.6" r="2.45" fill="#ff8080" fill-opacity="0.9"/>
<circle cx="348.0" cy="832.9" r="2.45" fill="#ff8080" fill-opacity="0.9"/>
<circle cx="360.8" cy="831.1" r="2.45" fill="#ff8080" fill-opacity="0.9"/>
<circle cx="366.4" cy="830.2" r="2.45" fill="#ff8080" fill-opacity="0.9"/>
<circle cx="420.2" cy="825.1" r="2.45" fill="#ff8080" fill-opacity="0.9"/>
<circle cx="381.1" cy="833.2" r="2.45" fill="#ff8080" fill-opacity="0.9"/>
<circle cx="400.5" cy="832.8" r="2.45" fill="#ff8080" fill-opacity="0.9"/>
<circle cx="345.1" cy="843.2" r="2.45" fill="#ff8080" fill-opacity="0.9"/>
<circle cx="354.4" cy="845.5" r="2.45" fill="#ff8080" fill-opacity="0.9"/>
<circle cx="362.4" cy="847.2" r="2.45" fill="#ff8080" fill-opacity="0.9"/>
<circle cx="368.9" cy="847.2" r="2.45" fill="#ff8080" fill-opacity="0.9"/>
<circle cx="373.8" cy="844.5" r="2.45" fill="#ff8080" fill-opacity="0.9"/>
<circle cx="384.5" cy="843.6" r="2.45" fill="#ff8080" fill-opacity="0.9"/>
<circle cx="389.2" cy="846.8" r="2.45" fill="#ff8080" fill-opacity="0.9"/>
<circle cx="393.4" cy="847.2" r="2.45" fill="#ff8080" fill-opacity="0.9"/>
<circle cx="397.2" cy="844.1" r="2.45" fill="#ff8080" fill-opacity="0.9"/>
<circle cx="401.9" cy="847.9" r="2.45" fill="#ff8080" fill-opacity="0.9"/>
<circle cx="405.2" cy="844.5" r="2.45" fill="#ff8080" fill-opacity="0.9"/>
<circle cx="420.3" cy="824.7" r="2.45" fill="#ff8080" fill-opacity="0.9"/>
<circle cx="417.8" cy="844.4" r="2.45" fill="#ff8080" fill-opacity="0.9"/>
<circle cx="422.7" cy="851.4" r="2.45" fill="#ff8080" fill-opacity="0.9"/>
<circle cx="424.8" cy="843.7" r="2.45" fill="#ff8080" fill-opacity="0.9"/>
<circle cx="429.0" cy="854.2" r="2.45" fill="#ff8080" fill-opacity="0.9"/>
<circle cx="433.2" cy="847.9" r="2.45" fill="#ff8080" fill-opacity="0.9"/>
<circle cx="434.9" cy="832.5" r="2.45" fill="#ff8080" fill-opacity="0.9"/>
<circle cx="440.2" cy="834.6" r="2.45" fill="#ff8080" fill-opacity="0.9"/>
<circle cx="445.5" cy="829.4" r="2.45" fill="#ff8080" fill-opacity="0.9"/>
<circle cx="447.5" cy="851.7" r="2.45" fill="#ff8080" fill-opacity="0.9"/>
<circle cx="452.6" cy="846.9" r="2.45" fill="#ff8080" fill-opacity="0.9"/>
<circle cx="459.1" cy="816.6" r="2.45" fill="#ff8080" fill-opacity="0.9"/>
<circle cx="460.1" cy="832.7" r="2.45" fill="#ff8080" fill-opacity="0.9"/>
<circle cx="457.7" cy="835.3" r="2.45" fill="#ff8080" fill-opacity="0.9"/>
<circle cx="462.6" cy="844.4" r="2.45" fill="#ff8080" fill-opacity="0.9"/>
<circle cx="466.1" cy="834.6" r="2.45" fill="#ff8080" fill-opacity="0.9"/>
<circle cx="472.5" cy="846.2" r="2.45" fill="#ff8080" fill-opacity="0.9"/>
<circle cx="477.6" cy="830.1" r="2.45" fill="#ff8080" fill-opacity="0.9"/>
<circle cx="479.5" cy="833.2" r="2.45" fill="#ff8080" fill-opacity="0.9"/>
<circle cx="486.5" cy="848.6" r="2.45" fill="#ff8080" fill-opacity="0.9"/>
<circle cx="491.4" cy="847.2" r="2.45" fill="#ff8080" fill-opacity="0.9"/>
<circle cx="496.0" cy="847.6" r="2.45" fill="#ff8080" fill-opacity="0.9"/>
<circle cx="496.6" cy="812.8" r="2.45" fill="#ff8080" fill-opacity="0.9"/>
<circle cx="498.4" cy="829.7" r="2.45" fill="#ff8080" fill-opacity="0.9"/>
<circle cx="500.8" cy="858.7" r="2.45" fill="#ff8080" fill-opacity="0.9"/>
<circle cx="378.5" cy="785.7" r="2.45" fill="#ff0000"/>
<circle cx="379.8" cy="816.8" r="2.45" fill="#ff0000"/>
<circle cx="407.9" cy="887.3" r="2.45" fill="#ff0000"/>
<circle cx="349.7" cy="858.8" r="2.45" fill="#ff0000"/>
<circle cx="422.6" cy="858.8" r="2.45" fill="#ff0000"/>
<circle cx="345.7" cy="840.5" r="2.45" fill="#ff0000"/>
<circle cx="347.7" cy="837.8" r="2.45" fill="#ff0000"/>
<circle cx="349.7" cy="839.8" r="2.45" fill="#ff0000"/>
<circle cx="353.7" cy="840.5" r="2.45" fill="#ff0000"/>
<circle cx="357.1" cy="840.1" r="2.45" fill="#ff0000"/>
<circle cx="360.8" cy="835.8" r="2.45" fill="#ff0000"/>
<circle cx="362.4" cy="843.2" r="2.45" fill="#ff0000"/>
<circle cx="366.7" cy="836.9" r="2.45" fill="#ff0000"/>
<circle cx="369.1" cy="844.1" r="2.45" fill="#ff0000"/>
<circle cx="372.9" cy="840.5" r="2.45" fill="#ff0000"/>
<circle cx="374.7" cy="839.4" r="2.45" fill="#ff0000"/>
<circle cx="381.1" cy="836.8" r="2.45" fill="#ff0000"/>
<circle cx="384.5" cy="839.8" r="2.45" fill="#ff0000"/>
<circle cx="386.5" cy="841.2" r="2.45" fill="#ff0000"/>
<circle cx="388.9" cy="843.6" r="2.45" fill="#ff0000"/>
<circle cx="393.2" cy="840.5" r="2.45" fill="#ff0000"/>
<circle cx="395.9" cy="840.1" r="2.45" fill="#ff0000"/>
<circle cx="398.3" cy="840.1" r="2.45" fill="#ff0000"/>
<circle cx="400.9" cy="837.6" r="2.45" fill="#ff0000"/>
<circle cx="401.9" cy="845.9" r="2.45" fill="#ff0000"/>
<circle cx="405.9" cy="842.2" r="2.45" fill="#ff0000"/>
<circle cx="408.6" cy="841.6" r="2.45" fill="#ff0000"/>
<circle cx="414.6" cy="842.2" r="2.45" fill="#ff0000"/>
<circle cx="417.9" cy="842.9" r="2.45" fill="#ff0000"/>
<circle cx="420.2" cy="833.8" r="2.45" fill="#ff0000"/>
<circle cx="421.0" cy="837.2" r="2.45" fill="#ff0000"/>
<circle cx="423.9" cy="840.5" r="2.45" fill="#ff0000"/>
<circle cx="420.3" cy="833.9" r="2.45" fill="#ff0000"/>
<circle cx="421.3" cy="836.7" r="2.45" fill="#ff0000"/>
<circle cx="417.1" cy="842.7" r="2.45" fill="#ff0000"/>
<circle cx="425.1" cy="840.2" r="2.45" fill="#ff0000"/>
<circle cx="429.0" cy="840.9" r="2.45" fill="#ff0000"/>
<circle cx="429.0" cy="850.7" r="2.45" fill="#ff0000"/>
<circle cx="422.7" cy="858.7" r="2.45" fill="#ff0000"/>
<circle cx="433.5" cy="842.3" r="2.45" fill="#ff0000"/>
<circle cx="435.0" cy="837.6" r="2.45" fill="#ff0000"/>
<circle cx="437.4" cy="839.7" r="2.45" fill="#ff0000"/>
<circle cx="440.2" cy="837.6" r="2.45" fill="#ff0000"/>
<circle cx="441.3" cy="850.7" r="2.45" fill="#ff0000"/>
<circle cx="445.5" cy="836.7" r="2.45" fill="#ff0000"/>
<circle cx="447.9" cy="839.7" r="2.45" fill="#ff0000"/>
<circle cx="447.9" cy="846.2" r="2.45" fill="#ff0000"/>
<circle cx="452.6" cy="842.0" r="2.45" fill="#ff0000"/>
<circle cx="454.2" cy="839.7" r="2.45" fill="#ff0000"/>
<circle cx="456.3" cy="824.7" r="2.45" fill="#ff0000"/>
<circle cx="459.1" cy="824.0" r="2.45" fill="#ff0000"/>
<circle cx="458.4" cy="837.4" r="2.45" fill="#ff0000"/>
<circle cx="460.5" cy="836.7" r="2.45" fill="#ff0000"/>
<circle cx="462.6" cy="840.9" r="2.45" fill="#ff0000"/>
<circle cx="466.1" cy="837.4" r="2.45" fill="#ff0000"/>
<circle cx="467.8" cy="854.5" r="2.45" fill="#ff0000"/>
<circle cx="472.5" cy="840.2" r="2.45" fill="#ff0000"/>
<circle cx="478.3" cy="837.4" r="2.45" fill="#ff0000"/>
<circle cx="486.5" cy="841.1" r="2.45" fill="#ff0000"/>
<circle cx="491.4" cy="840.9" r="2.45" fill="#ff0000"/>
<circle cx="492.8" cy="843.7" r="2.45" fill="#ff0000"/>
<circle cx="496.3" cy="841.6" r="2.45" fill="#ff0000"/>
<circle cx="496.6" cy="819.8" r="2.45" fill="#ff0000"/>
<circle cx="498.4" cy="834.6" r="2.45" fill="#ff0000"/>
<circle cx="499.8" cy="837.4" r="2.45" fill="#ff0000"/>
<circle cx="500.8" cy="846.2" r="2.45" fill="#ff0000"/>
</g>
<g id="panel-e">
<text class="ls" x="554.00" y="728.00" font-size="23" font-weight="bold">e</text>
<text class="ls" x="620.90" y="772.90" font-size="12.55" stroke="#000" stroke-width="0.22">WGBS: TKO normalised</text>
<text class="ls" font-size="11.94" stroke="#000" stroke-width="0.22" text-anchor="middle" transform="translate(561.40,839.60) rotate(-90) scale(1.030,1)">% CH methylation</text>
<rect x="605.90" y="839.20" width="5.60" height="19.10" fill="#9b9b9f"/>
<rect x="618.90" y="839.20" width="5.30" height="19.10" fill="#9b9b9f"/>
<rect x="635.20" y="807.10" width="5.20" height="32.10" fill="#9b9b9f"/>
<rect x="636.80" y="823.00" width="4.80" height="16.20" fill="#9b9b9f"/>
<rect x="645.20" y="839.20" width="5.30" height="9.20" fill="#9b9b9f"/>
<rect x="653.90" y="839.20" width="10.40" height="9.20" fill="#9b9b9f"/>
<rect x="664.30" y="839.20" width="5.60" height="37.30" fill="#9b9b9f"/>
<rect x="679.50" y="839.20" width="5.60" height="9.20" fill="#9b9b9f"/>
<rect x="685.10" y="839.20" width="5.50" height="28.20" fill="#9b9b9f"/>
<rect x="698.40" y="839.20" width="5.50" height="9.20" fill="#9b9b9f"/>
<rect x="724.20" y="839.20" width="5.70" height="37.30" fill="#9b9b9f"/>
<rect x="754.40" y="823.00" width="5.40" height="16.20" fill="#9b9b9f"/>
<line x1="592.20" y1="785.00" x2="592.20" y2="893.60" stroke="#222" stroke-width="1.0"/>
<line x1="589.20" y1="785.40" x2="592.20" y2="785.40" stroke="#222" stroke-width="1.0"/>
<text class="ls" x="586.80" y="789.60" font-size="12.0" text-anchor="end" stroke="#000" stroke-width="0.22">16</text>
<line x1="589.20" y1="812.30" x2="592.20" y2="812.30" stroke="#222" stroke-width="1.0"/>
<text class="ls" x="586.80" y="816.50" font-size="12.0" text-anchor="end" stroke="#000" stroke-width="0.22">8</text>
<line x1="589.20" y1="839.20" x2="592.20" y2="839.20" stroke="#222" stroke-width="1.0"/>
<text class="ls" x="586.80" y="843.40" font-size="12.0" text-anchor="end" stroke="#000" stroke-width="0.22">0</text>
<line x1="589.20" y1="866.10" x2="592.20" y2="866.10" stroke="#222" stroke-width="1.0"/>
<text class="ls" x="586.80" y="870.30" font-size="12.0" text-anchor="end" stroke="#000" stroke-width="0.22">-8</text>
<line x1="589.20" y1="893.20" x2="592.20" y2="893.20" stroke="#222" stroke-width="1.0"/>
<text class="ls" x="586.80" y="897.40" font-size="12.0" text-anchor="end" stroke="#000" stroke-width="0.22">-16</text>
<line x1="603.00" y1="839.20" x2="772.90" y2="839.20" stroke="#111" stroke-width="1.0"/>
<text class="ls" transform="translate(607.40,903.40) scale(1.050,1)" font-size="11.43" text-anchor="middle" stroke="#000" stroke-width="0.22">0</text>
<text class="ls" transform="translate(640.80,903.40) scale(1.050,1)" font-size="11.43" text-anchor="middle" stroke="#000" stroke-width="0.22">50</text>
<text class="ls" transform="translate(674.20,903.40) scale(1.050,1)" font-size="11.43" text-anchor="middle" stroke="#000" stroke-width="0.22">100</text>
<text class="ls" transform="translate(707.60,903.40) scale(1.050,1)" font-size="11.43" text-anchor="middle" stroke="#000" stroke-width="0.22">150</text>
<text class="ls" transform="translate(741.00,903.40) scale(1.050,1)" font-size="11.43" text-anchor="middle" stroke="#000" stroke-width="0.22">200</text>
<text class="ls" transform="translate(774.40,903.40) scale(1.050,1)" font-size="11.43" text-anchor="middle" stroke="#000" stroke-width="0.22">250</text>
<text class="ls" transform="translate(688.70,931.60) scale(1.060,1)" font-size="11.75" text-anchor="middle" stroke="#000" stroke-width="0.22">Major satellite monomer(234bp)</text>
<circle cx="637.8" cy="786.0" r="2.45" fill="#e0000e"/>
<circle cx="639.0" cy="816.3" r="2.45" fill="#e0000e"/>
<circle cx="608.5" cy="861.4" r="2.45" fill="#e0000e"/>
<circle cx="604.3" cy="841.8" r="2.45" fill="#e0000e"/>
<circle cx="606.5" cy="838.5" r="2.45" fill="#e0000e"/>
<circle cx="608.9" cy="841.1" r="2.45" fill="#e0000e"/>
<circle cx="613.5" cy="840.7" r="2.45" fill="#e0000e"/>
<circle cx="616.1" cy="841.5" r="2.45" fill="#e0000e"/>
<circle cx="620.2" cy="833.9" r="2.45" fill="#e0000e"/>
<circle cx="621.8" cy="843.8" r="2.45" fill="#e0000e"/>
<circle cx="625.3" cy="838.1" r="2.45" fill="#e0000e"/>
<circle cx="628.3" cy="834.6" r="2.45" fill="#e0000e"/>
<circle cx="632.5" cy="841.5" r="2.45" fill="#e0000e"/>
<circle cx="634.4" cy="840.7" r="2.45" fill="#e0000e"/>
<circle cx="640.3" cy="837.7" r="2.45" fill="#e0000e"/>
<circle cx="644.1" cy="843.0" r="2.45" fill="#e0000e"/>
<circle cx="647.8" cy="846.1" r="2.45" fill="#e0000e"/>
<circle cx="652.8" cy="843.0" r="2.45" fill="#e0000e"/>
<circle cx="656.6" cy="842.3" r="2.45" fill="#e0000e"/>
<circle cx="659.7" cy="838.0" r="2.45" fill="#e0000e"/>
<circle cx="661.2" cy="846.1" r="2.45" fill="#e0000e"/>
<circle cx="665.0" cy="841.5" r="2.45" fill="#e0000e"/>
<circle cx="656.7" cy="842.6" r="2.45" fill="#e0000e"/>
<circle cx="660.0" cy="837.9" r="2.45" fill="#e0000e"/>
<circle cx="661.3" cy="846.2" r="2.45" fill="#e0000e"/>
<circle cx="665.8" cy="842.1" r="2.45" fill="#e0000e"/>
<circle cx="667.4" cy="843.7" r="2.45" fill="#e0000e"/>
<circle cx="667.4" cy="888.9" r="2.45" fill="#e0000e"/>
<circle cx="674.0" cy="844.6" r="2.45" fill="#e0000e"/>
<circle cx="677.4" cy="849.5" r="2.45" fill="#e0000e"/>
<circle cx="679.5" cy="837.6" r="2.45" fill="#e0000e"/>
<circle cx="682.0" cy="867.4" r="2.45" fill="#e0000e"/>
<circle cx="684.0" cy="847.0" r="2.45" fill="#e0000e"/>
<circle cx="685.1" cy="848.4" r="2.45" fill="#e0000e"/>
<circle cx="688.1" cy="858.6" r="2.45" fill="#e0000e"/>
<circle cx="689.0" cy="846.5" r="2.45" fill="#e0000e"/>
<circle cx="692.8" cy="846.2" r="2.45" fill="#e0000e"/>
<circle cx="693.9" cy="837.9" r="2.45" fill="#e0000e"/>
<circle cx="696.1" cy="843.2" r="2.45" fill="#e0000e"/>
<circle cx="699.7" cy="838.8" r="2.45" fill="#e0000e"/>
<circle cx="701.0" cy="851.2" r="2.45" fill="#e0000e"/>
<circle cx="705.0" cy="838.4" r="2.45" fill="#e0000e"/>
<circle cx="707.2" cy="848.7" r="2.45" fill="#e0000e"/>
<circle cx="708.0" cy="842.6" r="2.45" fill="#e0000e"/>
<circle cx="712.1" cy="843.7" r="2.45" fill="#e0000e"/>
<circle cx="715.5" cy="825.2" r="2.45" fill="#e0000e"/>
<circle cx="718.8" cy="826.7" r="2.45" fill="#e0000e"/>
<circle cx="718.8" cy="838.4" r="2.45" fill="#e0000e"/>
<circle cx="721.7" cy="845.9" r="2.45" fill="#e0000e"/>
<circle cx="725.4" cy="838.3" r="2.45" fill="#e0000e"/>
<circle cx="727.0" cy="855.3" r="2.45" fill="#e0000e"/>
<circle cx="731.7" cy="842.1" r="2.45" fill="#e0000e"/>
<circle cx="737.0" cy="839.1" r="2.45" fill="#e0000e"/>
<circle cx="738.6" cy="838.3" r="2.45" fill="#e0000e"/>
<circle cx="745.8" cy="840.1" r="2.45" fill="#e0000e"/>
<circle cx="756.0" cy="819.7" r="2.45" fill="#e0000e"/>
<circle cx="757.7" cy="836.6" r="2.45" fill="#e0000e"/>
<circle cx="759.0" cy="838.8" r="2.45" fill="#e0000e"/>
<circle cx="756.0" cy="842.1" r="2.45" fill="#e0000e"/>
<circle cx="637.8" cy="802.5" r="2.45" fill="#ff8585" fill-opacity="0.92"/>
<circle cx="639.0" cy="823.6" r="2.45" fill="#ff8585" fill-opacity="0.92"/>
<circle cx="606.9" cy="831.6" r="2.45" fill="#ff8585" fill-opacity="0.92"/>
<circle cx="620.2" cy="838.5" r="2.45" fill="#ff8585" fill-opacity="0.92"/>
<circle cx="666.9" cy="850.9" r="2.45" fill="#ff8585" fill-opacity="0.92"/>
<circle cx="679.8" cy="836.3" r="2.45" fill="#ff8585" fill-opacity="0.92"/>
<circle cx="715.8" cy="837.6" r="2.45" fill="#ff8585" fill-opacity="0.92"/>
<circle cx="718.4" cy="832.1" r="2.45" fill="#ff8585" fill-opacity="0.92"/>
<circle cx="750.7" cy="835.8" r="2.45" fill="#ff8585" fill-opacity="0.92"/>
<circle cx="752.2" cy="841.7" r="2.45" fill="#ff8585" fill-opacity="0.92"/>
<circle cx="755.5" cy="838.8" r="2.45" fill="#ff8585" fill-opacity="0.92"/>
<circle cx="760.2" cy="843.7" r="2.45" fill="#ff8585" fill-opacity="0.92"/>
<circle cx="755.5" cy="860.0" r="2.45" fill="#ff8585" fill-opacity="0.92"/>
</g>
</svg>
</body>
</html>
